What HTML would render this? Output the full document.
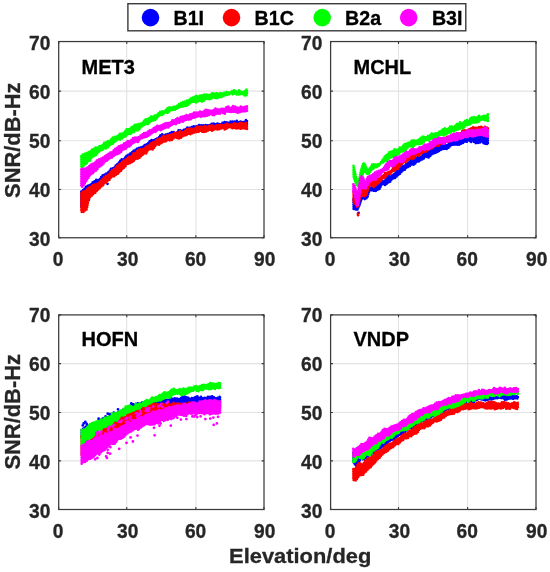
<!DOCTYPE html>
<html lang="en"><head><meta charset="utf-8"><title>SNR vs Elevation</title>
<style>html,body{margin:0;padding:0;background:#fff}body{width:550px;height:572px;overflow:hidden}</style></head>
<body>
<svg width="550" height="572" viewBox="0 0 550 572" style="display:block;font-family:'Liberation Sans', Arial, Helvetica, sans-serif;font-weight:bold">
<rect width="550" height="572" fill="#fff"/>
<path d="M126.75 41.55V237.75M195.90 41.55V237.75M58.70 91.10H264.00M58.70 140.80H264.00M58.70 189.50H264.00" stroke="#e3e3e3" stroke-width="1.1" fill="none"/>
<path d="M81.3 191.5 82.3 190.7 83.3 190.0 84.3 189.3 85.3 187.4 86.3 186.4 87.3 186.1 88.3 185.1 89.3 185.1 90.3 184.8 91.3 184.3 92.3 182.9 93.3 181.5 94.3 181.3 95.3 180.7 96.3 179.8 97.3 179.7 98.4 180.0 99.4 179.8 100.4 178.5 101.4 176.6 102.4 175.6 103.4 174.8 104.4 174.7 105.4 174.5 106.4 173.4 107.4 172.7 108.4 172.3 109.4 171.3 110.4 169.6 111.4 168.2 112.4 168.1 113.4 168.5 114.4 167.6 115.4 166.0 116.4 164.9 117.4 164.1 118.4 163.1 119.4 162.0 120.4 160.7 121.5 159.4 122.5 159.3 123.5 159.6 124.5 158.6 125.5 157.0 126.5 155.9 127.5 155.3 128.5 154.7 129.5 153.9 130.5 153.5 131.5 152.9 132.5 151.7 133.5 150.8 134.5 150.1 135.5 149.9 136.5 149.5 137.5 148.2 138.5 147.8 139.5 147.6 140.5 147.2 141.5 147.3 142.5 147.2 143.5 146.2 144.5 145.1 145.6 144.3 146.6 144.2 147.6 144.0 148.6 142.7 149.6 141.3 150.6 140.6 151.6 140.1 152.6 139.9 153.6 140.4 154.6 139.9 155.6 139.3 156.6 138.9 157.6 138.0 158.6 137.6 159.6 136.8 160.6 134.9 161.6 134.3 162.6 134.5 163.6 135.7 164.6 135.5 165.6 134.6 166.6 134.5 167.6 134.1 168.7 133.4 169.7 133.2 170.7 132.6 171.7 132.1 172.7 131.9 173.7 131.9 174.7 133.0 175.7 133.3 176.7 133.0 177.7 131.6 178.7 130.0 179.7 129.9 180.7 130.5 181.7 131.3 182.7 130.7 183.7 129.7 184.7 129.8 185.7 129.1 186.7 127.8 187.7 127.6 188.7 127.8 189.7 127.8 190.7 127.5 191.7 127.1 192.8 126.8 193.8 126.1 194.8 126.1 195.8 126.8 196.8 126.7 197.8 125.8 198.8 124.9 199.8 125.3 200.8 125.6 201.8 125.2 202.8 125.4 203.8 125.4 204.8 125.2 205.8 125.1 206.8 125.3 207.8 125.4 208.8 125.2 209.8 125.1 210.8 124.1 211.8 123.7 212.8 124.0 213.8 123.5 214.8 123.7 215.9 124.6 216.9 124.2 217.9 123.1 218.9 123.8 219.9 124.6 220.9 124.4 221.9 123.1 222.9 122.5 223.9 122.2 224.9 121.9 225.9 122.1 226.9 122.3 227.9 122.6 228.9 122.8 229.9 121.9 230.9 121.4 231.9 121.8 232.9 121.5 233.9 121.2 234.9 121.5 235.9 121.2 236.9 120.9 237.9 121.8 239.0 122.5 240.0 121.7 241.0 121.5 242.0 122.1 243.0 122.2 244.0 122.1 245.0 121.3 246.0 119.9 247.0 120.0 247.0 125.2 246.0 124.9 245.0 124.8 244.0 125.4 243.0 125.6 242.0 125.6 241.0 125.5 240.0 125.8 239.0 125.8 237.9 124.3 236.9 123.4 235.9 124.0 234.9 124.5 233.9 125.0 232.9 125.3 231.9 125.1 230.9 125.0 229.9 124.3 228.9 124.5 227.9 125.7 226.9 125.7 225.9 125.2 224.9 125.2 223.9 125.6 222.9 126.3 221.9 126.5 220.9 125.8 219.9 125.0 218.9 125.2 217.9 126.0 216.9 126.1 215.9 125.6 214.8 126.0 213.8 127.2 212.8 127.8 211.8 127.2 210.8 126.4 209.8 126.3 208.8 126.6 207.8 126.9 206.8 128.1 205.8 129.2 204.8 128.7 203.8 127.5 202.8 127.6 201.8 128.6 200.8 129.5 199.8 129.5 198.8 128.8 197.8 128.7 196.8 128.8 195.8 128.8 194.8 129.0 193.8 128.9 192.8 129.0 191.7 130.1 190.7 131.1 189.7 131.1 188.7 130.8 187.7 130.8 186.7 132.1 185.7 133.4 184.7 133.1 183.7 133.2 182.7 133.9 181.7 133.3 180.7 132.8 179.7 133.1 178.7 133.2 177.7 133.5 176.7 133.8 175.7 134.9 174.7 136.0 173.7 136.2 172.7 136.2 171.7 136.7 170.7 136.7 169.7 136.4 168.7 137.2 167.6 138.2 166.6 137.8 165.6 136.9 164.6 137.4 163.6 138.3 162.6 138.7 161.6 138.7 160.6 139.3 159.6 140.4 158.6 141.0 157.6 141.2 156.6 141.6 155.6 143.5 154.6 144.6 153.6 144.7 152.6 144.1 151.6 144.4 150.6 146.3 149.6 147.5 148.6 147.5 147.6 147.7 146.6 148.0 145.6 148.4 144.5 149.0 143.5 150.2 142.5 151.3 141.5 152.0 140.5 152.5 139.5 152.5 138.5 152.6 137.5 153.2 136.5 153.8 135.5 155.0 134.5 155.7 133.5 155.5 132.5 156.2 131.5 157.9 130.5 159.2 129.5 159.6 128.5 159.2 127.5 159.9 126.5 160.9 125.5 161.8 124.5 163.2 123.5 164.2 122.5 165.3 121.5 166.5 120.4 166.8 119.4 167.2 118.4 169.3 117.4 170.2 116.4 171.0 115.4 171.9 114.4 171.5 113.4 172.1 112.4 173.0 111.4 173.3 110.4 174.2 109.4 175.6 108.4 176.5 107.4 177.3 106.4 178.3 105.4 178.7 104.4 179.8 103.4 181.7 102.4 182.4 101.4 182.6 100.4 183.4 99.4 184.5 98.4 185.2 97.3 185.9 96.3 187.0 95.3 188.6 94.3 189.9 93.3 191.2 92.3 192.5 91.3 193.7 90.3 194.7 89.3 195.2 88.3 195.1 87.3 201.1 86.3 206.2 85.3 207.2 84.3 207.5 83.3 207.4 82.3 207.5 81.3 207.8Z" fill="#0000ff" stroke="#0000ff" stroke-width="2.6" stroke-linecap="round" stroke-linejoin="round" stroke-dasharray="0 2.2"/>
<path d="M88.9 199.8h0M107.5 183.8h0M196.1 131.8h0M138.6 157.8h0" fill="none" stroke="#0000ff" stroke-width="2.8" stroke-linecap="round"/>
<path d="M81.3 193.4 82.3 192.1 83.3 191.0 84.3 191.2 85.3 191.6 86.3 190.7 87.3 189.1 88.3 187.7 89.3 187.5 90.3 187.6 91.3 186.6 92.3 185.3 93.3 185.2 94.3 184.6 95.3 184.2 96.3 184.3 97.3 183.8 98.4 183.2 99.4 182.3 100.4 180.6 101.4 180.2 102.4 179.9 103.4 178.1 104.4 176.7 105.4 176.0 106.4 175.6 107.4 175.1 108.4 175.0 109.4 173.8 110.4 172.2 111.4 171.2 112.4 170.0 113.4 169.3 114.4 169.0 115.4 168.2 116.4 167.1 117.4 165.8 118.4 164.8 119.4 164.3 120.4 163.6 121.5 162.5 122.5 161.4 123.5 160.6 124.5 159.9 125.5 159.4 126.5 159.6 127.5 158.4 128.5 156.8 129.5 156.5 130.5 157.0 131.5 156.5 132.5 154.9 133.5 153.2 134.5 153.0 135.5 153.0 136.5 151.8 137.5 150.5 138.5 149.9 139.5 149.7 140.5 149.5 141.5 148.9 142.5 149.3 143.5 149.3 144.5 148.7 145.6 146.9 146.6 146.2 147.6 145.8 148.6 145.3 149.6 145.0 150.6 143.9 151.6 142.9 152.6 142.3 153.6 142.3 154.6 142.4 155.6 141.3 156.6 139.6 157.6 138.8 158.6 138.7 159.6 138.8 160.6 138.5 161.6 137.9 162.6 136.7 163.6 135.8 164.6 136.4 165.6 136.8 166.6 136.1 167.6 135.3 168.7 135.1 169.7 134.8 170.7 134.6 171.7 135.0 172.7 134.7 173.7 133.4 174.7 132.9 175.7 132.5 176.7 132.6 177.7 133.5 178.7 132.4 179.7 131.2 180.7 131.0 181.7 132.3 182.7 132.6 183.7 132.3 184.7 131.4 185.7 130.4 186.7 129.4 187.7 129.1 188.7 128.9 189.7 128.6 190.7 128.5 191.7 128.4 192.8 128.8 193.8 129.2 194.8 128.7 195.8 127.9 196.8 126.9 197.8 126.2 198.8 126.8 199.8 127.0 200.8 126.8 201.8 127.2 202.8 127.0 203.8 126.6 204.8 126.0 205.8 126.1 206.8 126.8 207.8 126.3 208.8 126.1 209.8 126.0 210.8 125.6 211.8 125.2 212.8 125.4 213.8 126.5 214.8 126.6 215.9 125.4 216.9 125.2 217.9 125.4 218.9 125.1 219.9 124.9 220.9 124.7 221.9 124.9 222.9 125.4 223.9 125.4 224.9 124.6 225.9 123.9 226.9 123.9 227.9 123.9 228.9 124.6 229.9 125.1 230.9 124.5 231.9 124.1 232.9 124.4 233.9 123.9 234.9 123.0 235.9 123.6 236.9 124.4 237.9 124.0 239.0 123.6 240.0 123.1 241.0 122.5 242.0 123.0 243.0 123.8 244.0 123.9 245.0 123.0 246.0 122.7 247.0 123.9 247.0 129.0 246.0 128.7 245.0 128.5 244.0 128.2 243.0 128.2 242.0 128.6 241.0 128.8 240.0 128.2 239.0 128.2 237.9 128.6 236.9 128.7 235.9 128.3 234.9 127.9 233.9 128.1 232.9 128.3 231.9 128.0 230.9 127.4 229.9 127.0 228.9 127.2 227.9 127.5 226.9 128.1 225.9 129.3 224.9 129.6 223.9 128.9 222.9 127.7 221.9 128.0 220.9 128.6 219.9 129.3 218.9 129.3 217.9 129.0 216.9 129.6 215.9 129.4 214.8 128.6 213.8 129.6 212.8 130.9 211.8 130.7 210.8 130.1 209.8 129.8 208.8 129.8 207.8 130.6 206.8 131.5 205.8 131.5 204.8 131.5 203.8 132.2 202.8 132.2 201.8 131.2 200.8 130.6 199.8 131.1 198.8 131.8 197.8 132.0 196.8 132.0 195.8 131.8 194.8 132.2 193.8 132.6 192.8 133.0 191.7 133.6 190.7 134.2 189.7 134.0 188.7 133.5 187.7 133.9 186.7 134.8 185.7 135.5 184.7 135.5 183.7 135.4 182.7 136.3 181.7 137.2 180.7 137.9 179.7 138.2 178.7 138.5 177.7 138.6 176.7 137.6 175.7 137.1 174.7 137.4 173.7 138.1 172.7 139.6 171.7 140.0 170.7 139.9 169.7 140.4 168.7 140.3 167.6 139.9 166.6 140.8 165.6 141.5 164.6 141.2 163.6 141.8 162.6 142.6 161.6 142.3 160.6 143.5 159.6 144.8 158.6 144.8 157.6 144.4 156.6 144.6 155.6 145.5 154.6 147.0 153.6 148.7 152.6 149.4 151.6 149.3 150.6 148.9 149.6 149.0 148.6 149.6 147.6 150.7 146.6 153.0 145.6 153.9 144.5 153.6 143.5 153.5 142.5 155.0 141.5 156.0 140.5 156.5 139.5 157.6 138.5 158.4 137.5 158.7 136.5 158.9 135.5 158.9 134.5 159.9 133.5 161.3 132.5 161.9 131.5 162.3 130.5 162.8 129.5 163.4 128.5 163.7 127.5 163.4 126.5 164.0 125.5 166.1 124.5 167.5 123.5 167.8 122.5 168.8 121.5 170.4 120.4 171.4 119.4 172.0 118.4 173.3 117.4 174.2 116.4 174.4 115.4 175.2 114.4 176.1 113.4 176.6 112.4 176.3 111.4 177.0 110.4 178.1 109.4 179.8 108.4 180.2 107.4 181.0 106.4 182.3 105.4 182.8 104.4 183.1 103.4 184.8 102.4 186.1 101.4 186.4 100.4 187.3 99.4 188.3 98.4 189.4 97.3 190.3 96.3 191.4 95.3 192.7 94.3 193.5 93.3 193.9 92.3 195.0 91.3 196.2 90.3 196.8 89.3 198.5 88.3 200.5 87.3 206.6 86.3 210.3 85.3 210.2 84.3 210.8 83.3 212.2 82.3 212.3 81.3 211.6Z" fill="#ff0000" stroke="#ff0000" stroke-width="2.6" stroke-linecap="round" stroke-linejoin="round" stroke-dasharray="0 2.2"/>
<path d="M81.3 156.1 82.3 155.1 83.3 154.0 84.3 153.9 85.3 153.8 86.3 153.3 87.3 152.7 88.3 152.0 89.3 151.9 90.3 151.6 91.3 150.3 92.3 149.2 93.3 149.2 94.3 148.7 95.3 147.5 96.3 147.4 97.3 147.7 98.4 147.1 99.4 146.2 100.4 145.5 101.4 145.9 102.4 145.7 103.4 144.1 104.4 142.6 105.4 142.1 106.4 142.3 107.4 141.6 108.4 140.8 109.4 140.9 110.4 140.6 111.4 139.2 112.4 137.7 113.4 137.6 114.4 137.3 115.4 136.5 116.4 136.6 117.4 136.7 118.4 135.6 119.4 134.0 120.4 133.4 121.5 133.7 122.5 133.6 123.5 133.1 124.5 132.2 125.5 130.9 126.5 129.4 127.5 128.7 128.5 129.5 129.5 129.7 130.5 128.2 131.5 127.2 132.5 127.2 133.5 126.3 134.5 125.0 135.5 124.2 136.5 124.5 137.5 124.7 138.5 124.0 139.5 123.8 140.5 123.7 141.5 123.2 142.5 122.7 143.5 121.8 144.5 120.1 145.6 119.2 146.6 118.8 147.6 119.1 148.6 119.1 149.6 117.7 150.6 116.7 151.6 116.5 152.6 116.8 153.6 116.5 154.6 115.6 155.6 115.5 156.6 114.9 157.6 114.2 158.6 113.2 159.6 112.0 160.6 111.4 161.6 111.3 162.6 111.2 163.6 111.4 164.6 111.3 165.6 110.2 166.6 108.9 167.6 108.3 168.7 107.7 169.7 107.0 170.7 107.2 171.7 107.7 172.7 107.3 173.7 106.7 174.7 106.6 175.7 106.6 176.7 106.1 177.7 105.3 178.7 104.3 179.7 103.5 180.7 103.1 181.7 102.7 182.7 102.1 183.7 101.8 184.7 101.6 185.7 101.1 186.7 100.6 187.7 100.5 188.7 100.5 189.7 99.5 190.7 98.6 191.7 98.3 192.8 97.5 193.8 97.1 194.8 96.8 195.8 95.8 196.8 95.7 197.8 96.3 198.8 96.7 199.8 95.6 200.8 95.5 201.8 95.6 202.8 94.8 203.8 94.6 204.8 94.7 205.8 94.5 206.8 94.5 207.8 95.1 208.8 95.2 209.8 94.9 210.8 94.0 211.8 93.3 212.8 93.4 213.8 93.5 214.8 93.5 215.9 93.4 216.9 93.3 217.9 93.6 218.9 94.0 219.9 93.6 220.9 92.8 221.9 93.1 222.9 93.7 223.9 93.1 224.9 92.2 225.9 92.0 226.9 92.2 227.9 92.4 228.9 92.2 229.9 92.5 230.9 92.5 231.9 91.1 232.9 90.3 233.9 90.3 234.9 90.3 235.9 91.4 236.9 92.1 237.9 91.6 239.0 90.3 240.0 90.5 241.0 91.9 242.0 92.1 243.0 91.9 244.0 91.6 245.0 90.8 246.0 89.9 247.0 89.4 247.0 94.8 246.0 95.9 245.0 95.6 244.0 95.1 243.0 94.2 242.0 94.2 241.0 93.9 240.0 94.0 239.0 94.4 237.9 94.6 236.9 94.7 235.9 94.2 234.9 93.4 233.9 93.8 232.9 94.4 231.9 93.9 230.9 93.2 229.9 93.8 228.9 94.7 227.9 94.8 226.9 94.8 225.9 95.4 224.9 95.5 223.9 95.2 222.9 96.1 221.9 97.1 220.9 97.1 219.9 97.1 218.9 97.3 217.9 97.9 216.9 98.3 215.9 98.4 214.8 97.6 213.8 97.1 212.8 97.4 211.8 98.3 210.8 99.1 209.8 99.4 208.8 99.2 207.8 98.9 206.8 99.1 205.8 99.0 204.8 99.3 203.8 100.7 202.8 101.4 201.8 101.6 200.8 101.2 199.8 100.8 198.8 100.7 197.8 101.5 196.8 102.3 195.8 102.4 194.8 102.2 193.8 101.6 192.8 101.7 191.7 102.1 190.7 102.7 189.7 103.6 188.7 104.6 187.7 105.5 186.7 105.9 185.7 106.3 184.7 105.9 183.7 105.6 182.7 106.6 181.7 107.1 180.7 106.7 179.7 107.1 178.7 107.7 177.7 108.2 176.7 108.9 175.7 109.5 174.7 109.8 173.7 109.6 172.7 110.0 171.7 110.3 170.7 110.2 169.7 110.7 168.7 112.3 167.6 113.0 166.6 112.6 165.6 112.5 164.6 112.9 163.6 113.6 162.6 114.6 161.6 115.1 160.6 115.1 159.6 115.4 158.6 115.9 157.6 116.9 156.6 118.5 155.6 119.7 154.6 120.3 153.6 120.5 152.6 120.3 151.6 120.4 150.6 121.4 149.6 122.5 148.6 123.6 147.6 124.4 146.6 124.2 145.6 124.0 144.5 124.5 143.5 125.4 142.5 126.2 141.5 126.7 140.5 127.3 139.5 129.2 138.5 129.8 137.5 130.4 136.5 129.9 135.5 130.3 134.5 131.7 133.5 132.4 132.5 132.2 131.5 132.6 130.5 134.0 129.5 134.5 128.5 133.9 127.5 134.0 126.5 135.1 125.5 136.5 124.5 137.0 123.5 137.1 122.5 138.0 121.5 139.0 120.4 139.5 119.4 139.7 118.4 139.5 117.4 139.6 116.4 140.3 115.4 141.4 114.4 142.0 113.4 142.9 112.4 144.0 111.4 144.2 110.4 144.5 109.4 145.5 108.4 146.7 107.4 147.7 106.4 148.2 105.4 148.6 104.4 148.1 103.4 148.4 102.4 150.2 101.4 150.7 100.4 150.3 99.4 151.1 98.4 152.3 97.3 153.2 96.3 154.7 95.3 155.9 94.3 155.9 93.3 156.1 92.3 156.6 91.3 157.9 90.3 160.1 89.3 161.0 88.3 161.1 87.3 162.5 86.3 164.1 85.3 164.3 84.3 164.8 83.3 166.0 82.3 166.5 81.3 167.7Z" fill="#00ff00" stroke="#00ff00" stroke-width="2.6" stroke-linecap="round" stroke-linejoin="round" stroke-dasharray="0 2.2"/>
<path d="M81.3 169.3 82.3 168.5 83.3 168.5 84.3 168.5 85.3 168.6 86.3 168.4 87.3 167.5 88.3 167.0 89.3 166.2 90.3 165.0 91.3 164.1 92.3 163.7 93.3 164.2 94.3 163.4 95.3 162.0 96.3 161.4 97.3 160.1 98.4 159.4 99.4 159.4 100.4 158.8 101.4 158.4 102.4 158.0 103.4 157.2 104.4 156.6 105.4 156.1 106.4 155.2 107.4 154.4 108.4 153.9 109.4 153.2 110.4 152.4 111.4 152.4 112.4 151.9 113.4 150.7 114.4 149.6 115.4 148.6 116.4 148.0 117.4 147.7 118.4 146.7 119.4 145.8 120.4 145.6 121.5 145.5 122.5 145.2 123.5 144.0 124.5 143.0 125.5 143.1 126.5 142.3 127.5 141.0 128.5 140.8 129.5 141.1 130.5 140.7 131.5 139.7 132.5 138.6 133.5 137.7 134.5 137.7 135.5 137.5 136.5 137.1 137.5 137.7 138.5 137.3 139.5 136.7 140.5 135.5 141.5 135.3 142.5 134.4 143.5 133.3 144.5 132.9 145.6 132.9 146.6 132.7 147.6 131.9 148.6 131.0 149.6 130.3 150.6 130.2 151.6 130.0 152.6 129.1 153.6 128.3 154.6 127.7 155.6 127.0 156.6 126.3 157.6 125.7 158.6 126.1 159.6 126.0 160.6 125.6 161.6 125.3 162.6 124.5 163.6 124.3 164.6 124.0 165.6 123.1 166.6 123.0 167.6 123.2 168.7 122.8 169.7 122.7 170.7 122.8 171.7 121.4 172.7 119.8 173.7 119.9 174.7 120.5 175.7 119.7 176.7 118.3 177.7 117.9 178.7 118.7 179.7 118.9 180.7 116.8 181.7 116.3 182.7 116.5 183.7 116.4 184.7 115.8 185.7 115.3 186.7 114.9 187.7 115.4 188.7 115.5 189.7 114.6 190.7 114.0 191.7 114.0 192.8 113.6 193.8 112.8 194.8 112.2 195.8 112.4 196.8 113.0 197.8 112.8 198.8 112.2 199.8 111.6 200.8 111.4 201.8 111.8 202.8 112.2 203.8 111.8 204.8 110.5 205.8 109.7 206.8 110.0 207.8 110.0 208.8 109.9 209.8 110.6 210.8 110.9 211.8 110.8 212.8 110.7 213.8 109.9 214.8 108.8 215.9 108.5 216.9 109.0 217.9 109.7 218.9 109.8 219.9 109.5 220.9 109.1 221.9 108.3 222.9 108.5 223.9 109.3 224.9 109.2 225.9 108.2 226.9 106.6 227.9 106.5 228.9 106.8 229.9 108.3 230.9 108.5 231.9 107.1 232.9 106.0 233.9 106.0 234.9 106.4 235.9 107.0 236.9 107.6 237.9 108.1 239.0 107.7 240.0 106.7 241.0 106.6 242.0 106.9 243.0 107.4 244.0 107.3 245.0 106.9 246.0 106.8 247.0 106.3 247.0 111.4 246.0 111.0 245.0 111.7 244.0 111.3 243.0 110.8 242.0 111.4 241.0 112.0 240.0 112.2 239.0 112.7 237.9 112.7 236.9 112.4 235.9 112.2 234.9 111.6 233.9 111.7 232.9 112.1 231.9 112.1 230.9 112.0 229.9 111.5 228.9 111.9 227.9 111.9 226.9 111.1 225.9 111.2 224.9 113.8 223.9 113.9 222.9 113.0 221.9 111.9 220.9 112.5 219.9 113.8 218.9 114.2 217.9 113.6 216.9 113.8 215.9 113.9 214.8 114.2 213.8 115.5 212.8 115.6 211.8 114.0 210.8 113.6 209.8 114.3 208.8 115.4 207.8 115.4 206.8 115.8 205.8 116.0 204.8 116.2 203.8 116.3 202.8 116.3 201.8 116.9 200.8 116.7 199.8 116.1 198.8 116.1 197.8 116.4 196.8 116.7 195.8 117.2 194.8 117.6 193.8 117.7 192.8 117.8 191.7 118.4 190.7 119.3 189.7 119.8 188.7 119.6 187.7 119.6 186.7 119.7 185.7 119.7 184.7 120.2 183.7 121.3 182.7 121.8 181.7 121.1 180.7 121.4 179.7 122.7 178.7 122.5 177.7 122.2 176.7 123.6 175.7 124.3 174.7 124.0 173.7 123.8 172.7 124.2 171.7 125.0 170.7 125.6 169.7 126.1 168.7 127.2 167.6 127.8 166.6 127.4 165.6 127.5 164.6 128.1 163.6 129.0 162.6 129.2 161.6 129.4 160.6 130.4 159.6 130.0 158.6 129.3 157.6 129.9 156.6 130.8 155.6 131.9 154.6 132.4 153.6 131.8 152.6 132.3 151.6 133.5 150.6 134.4 149.6 134.6 148.6 135.4 147.6 136.7 146.6 136.8 145.6 136.7 144.5 137.3 143.5 137.5 142.5 137.9 141.5 138.6 140.5 138.6 139.5 139.3 138.5 141.5 137.5 142.4 136.5 141.6 135.5 141.5 134.5 142.3 133.5 142.9 132.5 143.4 131.5 144.0 130.5 145.3 129.5 146.5 128.5 146.4 127.5 146.6 126.5 147.9 125.5 149.2 124.5 149.5 123.5 149.0 122.5 150.0 121.5 151.5 120.4 152.5 119.4 153.3 118.4 153.9 117.4 154.1 116.4 154.4 115.4 154.7 114.4 155.3 113.4 156.3 112.4 157.1 111.4 158.0 110.4 158.1 109.4 158.1 108.4 159.4 107.4 160.5 106.4 160.8 105.4 161.1 104.4 161.9 103.4 163.7 102.4 164.7 101.4 165.4 100.4 166.3 99.4 166.1 98.4 167.3 97.3 169.2 96.3 170.3 95.3 171.2 94.3 171.4 93.3 172.5 92.3 174.0 91.3 174.0 90.3 174.7 89.3 176.1 88.3 177.7 87.3 179.2 86.3 180.7 85.3 182.5 84.3 184.0 83.3 185.6 82.3 186.7 81.3 186.7Z" fill="#ff00ff" stroke="#ff00ff" stroke-width="2.6" stroke-linecap="round" stroke-linejoin="round" stroke-dasharray="0 2.2"/>
<path d="M58.70 237.75v-2.4M58.70 41.55v2.4M126.75 237.75v-2.4M126.75 41.55v2.4M195.90 237.75v-2.4M195.90 41.55v2.4M264.00 237.75v-2.4M264.00 41.55v2.4M58.70 41.55h2.4M264.00 41.55h-2.4M58.70 91.10h2.4M264.00 91.10h-2.4M58.70 140.80h2.4M264.00 140.80h-2.4M58.70 189.50h2.4M264.00 189.50h-2.4M58.70 237.75h2.4M264.00 237.75h-2.4" stroke="#3a3a3a" stroke-width="1.1" fill="none"/>
<rect x="58.70" y="41.55" width="205.30" height="196.20" fill="none" stroke="#3a3a3a" stroke-width="1.25"/>
<text transform="translate(58.2 265.9) scale(1 1.100)" font-size="19.20" fill="#262626" stroke="#262626" stroke-width="0.3" text-anchor="middle">0</text>
<text transform="translate(127.7 265.9) scale(1 1.100)" font-size="19.20" fill="#262626" stroke="#262626" stroke-width="0.3" text-anchor="middle">30</text>
<text transform="translate(195.6 265.9) scale(1 1.100)" font-size="19.20" fill="#262626" stroke="#262626" stroke-width="0.3" text-anchor="middle">60</text>
<text transform="translate(264.7 265.9) scale(1 1.100)" font-size="19.20" fill="#262626" stroke="#262626" stroke-width="0.3" text-anchor="middle">90</text>
<text transform="translate(50.4 49.9) scale(1 1.100)" font-size="19.20" fill="#262626" stroke="#262626" stroke-width="0.3" text-anchor="end">70</text>
<text transform="translate(50.4 98.5) scale(1 1.100)" font-size="19.20" fill="#262626" stroke="#262626" stroke-width="0.3" text-anchor="end">60</text>
<text transform="translate(50.4 148.1) scale(1 1.100)" font-size="19.20" fill="#262626" stroke="#262626" stroke-width="0.3" text-anchor="end">50</text>
<text transform="translate(50.4 196.6) scale(1 1.100)" font-size="19.20" fill="#262626" stroke="#262626" stroke-width="0.3" text-anchor="end">40</text>
<text transform="translate(50.4 246.4) scale(1 1.100)" font-size="19.20" fill="#262626" stroke="#262626" stroke-width="0.3" text-anchor="end">30</text>
<text transform="translate(81.6 73.5) scale(1 1.055)" font-size="20.00" fill="#000" stroke="#000" stroke-width="0.3">MET3</text>
<path d="M398.50 41.55V237.75M467.60 41.55V237.75M330.60 91.10H536.00M330.60 140.80H536.00M330.60 189.50H536.00" stroke="#e3e3e3" stroke-width="1.1" fill="none"/>
<path d="M353.5 199.2 354.5 201.5 355.5 203.0 356.5 203.9 357.5 203.7 358.5 201.2 359.6 196.9 360.6 191.2 361.6 189.9 362.6 190.7 363.6 191.9 364.6 193.5 365.6 194.1 366.6 193.7 367.6 193.5 368.6 189.9 369.6 187.6 370.6 187.6 371.6 187.2 372.6 187.6 373.6 187.4 374.6 186.4 375.6 185.6 376.6 185.0 377.6 184.4 378.6 183.8 379.6 183.3 380.6 182.9 381.6 181.9 382.6 181.1 383.6 181.2 384.6 180.8 385.6 179.3 386.6 178.2 387.6 177.2 388.6 175.7 389.6 175.6 390.6 176.6 391.7 176.1 392.7 174.7 393.7 174.6 394.7 173.7 395.7 172.6 396.7 170.0 397.7 169.7 398.7 169.6 399.7 168.7 400.7 167.4 401.7 166.2 402.7 166.2 403.7 166.6 404.7 165.7 405.7 164.3 406.7 163.8 407.7 163.6 408.7 162.7 409.7 161.3 410.7 160.2 411.7 159.5 412.7 159.2 413.7 158.4 414.7 157.5 415.7 157.4 416.7 157.8 417.7 156.7 418.7 155.9 419.7 156.6 420.7 157.3 421.7 156.6 422.7 154.8 423.7 153.5 424.8 152.9 425.8 152.4 426.8 152.4 427.8 152.1 428.8 151.0 429.8 150.3 430.8 150.3 431.8 149.8 432.8 148.9 433.8 148.0 434.8 147.4 435.8 147.4 436.8 147.6 437.8 146.2 438.8 145.4 439.8 145.8 440.8 145.9 441.8 145.0 442.8 143.9 443.8 143.4 444.8 143.0 445.8 145.0 446.8 145.1 447.8 144.8 448.8 143.2 449.8 142.6 450.8 142.3 451.8 141.8 452.8 141.9 453.8 141.2 454.8 140.2 455.8 139.7 456.9 139.7 457.9 140.1 458.9 139.7 459.9 138.8 460.9 139.1 461.9 139.5 462.9 138.4 463.9 138.2 464.9 138.2 465.9 137.5 466.9 137.6 467.9 138.5 468.9 138.6 469.9 137.9 470.9 137.0 471.9 136.4 472.9 137.2 473.9 138.3 474.9 137.6 475.9 135.5 476.9 135.1 477.9 135.5 478.9 136.1 479.9 136.0 480.9 136.0 481.9 136.6 482.9 136.9 483.9 136.9 484.9 136.4 485.9 135.5 486.9 135.8 487.9 135.7 487.9 144.3 486.9 143.8 485.9 143.3 484.9 143.8 483.9 143.8 482.9 142.3 481.9 141.5 480.9 142.2 479.9 142.6 478.9 142.5 477.9 143.1 476.9 143.3 475.9 143.1 474.9 143.0 473.9 141.7 472.9 140.4 471.9 141.2 470.9 142.3 469.9 141.2 468.9 139.8 467.9 140.1 466.9 141.8 465.9 142.1 464.9 141.6 463.9 142.1 462.9 143.0 461.9 143.6 460.9 143.8 459.9 144.6 458.9 144.9 457.9 145.2 456.9 144.4 455.8 144.1 454.8 145.0 453.8 144.9 452.8 144.1 451.8 144.5 450.8 145.4 449.8 146.8 448.8 147.7 447.8 148.0 446.8 148.8 445.8 149.5 444.8 148.6 443.8 148.3 442.8 149.1 441.8 149.4 440.8 149.8 439.8 150.2 438.8 151.4 437.8 152.0 436.8 152.0 435.8 152.8 434.8 152.8 433.8 153.2 432.8 154.1 431.8 154.2 430.8 155.2 429.8 156.6 428.8 157.4 427.8 157.9 426.8 156.8 425.8 156.1 424.8 156.9 423.7 158.8 422.7 159.5 421.7 159.2 420.7 159.9 419.7 161.1 418.7 161.5 417.7 161.4 416.7 161.7 415.7 163.1 414.7 164.3 413.7 164.7 412.7 164.5 411.7 164.2 410.7 165.2 409.7 166.2 408.7 166.9 407.7 167.1 406.7 167.4 405.7 168.4 404.7 169.7 403.7 170.4 402.7 170.4 401.7 171.5 400.7 173.1 399.7 173.8 398.7 174.6 397.7 175.4 396.7 176.4 395.7 177.6 394.7 178.3 393.7 178.5 392.7 178.5 391.7 179.3 390.6 181.0 389.6 182.4 388.6 182.5 387.6 182.7 386.6 183.9 385.6 185.0 384.6 184.9 383.6 184.1 382.6 183.9 381.6 184.7 380.6 186.9 379.6 188.9 378.6 189.8 377.6 189.7 376.6 190.1 375.6 191.1 374.6 191.3 373.6 190.7 372.6 190.1 371.6 190.2 370.6 190.8 369.6 190.4 368.6 192.8 367.6 197.0 366.6 198.1 365.6 199.2 364.6 199.1 363.6 197.8 362.6 198.1 361.6 199.4 360.6 201.8 359.6 205.2 358.5 207.3 357.5 209.5 356.5 210.1 355.5 209.3 354.5 209.2 353.5 208.8Z" fill="#0000ff" stroke="#0000ff" stroke-width="2.6" stroke-linecap="round" stroke-linejoin="round" stroke-dasharray="0 2.2"/>
<path d="M358.6 212.8h0" fill="none" stroke="#0000ff" stroke-width="2.8" stroke-linecap="round"/>
<path d="M353.5 191.8 354.5 194.4 355.5 197.0 356.5 200.9 357.5 201.7 358.5 196.1 359.6 190.3 360.6 184.0 361.6 183.0 362.6 184.4 363.6 185.7 364.6 188.4 365.6 189.7 366.6 188.4 367.6 185.9 368.6 183.5 369.6 183.3 370.6 182.9 371.6 181.0 372.6 180.6 373.6 181.3 374.6 181.7 375.6 181.3 376.6 179.3 377.6 178.0 378.6 178.6 379.6 178.8 380.6 177.7 381.6 176.3 382.6 176.0 383.6 175.9 384.6 173.7 385.6 172.3 386.6 173.0 387.6 172.8 388.6 172.0 389.6 171.7 390.6 171.2 391.7 170.4 392.7 168.6 393.7 167.3 394.7 165.3 395.7 164.3 396.7 164.7 397.7 163.2 398.7 161.5 399.7 161.2 400.7 161.3 401.7 161.1 402.7 160.2 403.7 158.9 404.7 158.6 405.7 158.4 406.7 157.5 407.7 156.6 408.7 156.1 409.7 156.5 410.7 156.8 411.7 156.2 412.7 155.3 413.7 154.0 414.7 152.4 415.7 151.9 416.7 152.0 417.7 151.4 418.7 150.7 419.7 150.1 420.7 149.4 421.7 148.9 422.7 148.2 423.7 147.6 424.8 147.8 425.8 147.4 426.8 146.5 427.8 145.2 428.8 143.9 429.8 143.4 430.8 143.6 431.8 144.0 432.8 143.4 433.8 142.6 434.8 141.4 435.8 140.6 436.8 141.0 437.8 140.8 438.8 139.6 439.8 139.5 440.8 139.9 441.8 139.5 442.8 139.2 443.8 139.1 444.8 138.2 445.8 137.3 446.8 137.1 447.8 136.5 448.8 136.5 449.8 137.6 450.8 137.2 451.8 136.8 452.8 135.5 453.8 133.9 454.8 134.0 455.8 134.8 456.9 133.8 457.9 132.8 458.9 133.6 459.9 133.8 460.9 133.3 461.9 131.7 462.9 129.9 463.9 129.7 464.9 130.3 465.9 130.7 466.9 130.8 467.9 129.7 468.9 129.2 469.9 129.2 470.9 128.7 471.9 127.8 472.9 127.4 473.9 127.2 474.9 127.7 475.9 128.3 476.9 127.8 477.9 127.3 478.9 127.1 479.9 126.6 480.9 126.5 481.9 127.4 482.9 127.9 483.9 127.5 484.9 126.8 485.9 126.8 486.9 127.7 487.9 127.4 487.9 131.6 486.9 131.2 485.9 130.9 484.9 131.3 483.9 131.7 482.9 131.6 481.9 132.2 480.9 133.5 479.9 133.7 478.9 133.8 477.9 133.4 476.9 132.2 475.9 131.9 474.9 132.7 473.9 134.1 472.9 134.0 471.9 133.4 470.9 133.9 469.9 134.5 468.9 134.3 467.9 133.8 466.9 135.1 465.9 135.9 464.9 135.1 463.9 134.3 462.9 134.0 461.9 134.3 460.9 134.7 459.9 135.5 458.9 135.7 457.9 135.5 456.9 136.3 455.8 137.8 454.8 138.3 453.8 138.9 452.8 139.7 451.8 139.8 450.8 140.1 449.8 140.5 448.8 141.3 447.8 141.9 446.8 142.0 445.8 141.8 444.8 141.7 443.8 142.0 442.8 142.8 441.8 143.2 440.8 143.2 439.8 144.5 438.8 145.7 437.8 145.2 436.8 145.5 435.8 146.5 434.8 146.2 433.8 146.0 432.8 147.1 431.8 148.4 430.8 148.3 429.8 148.6 428.8 149.3 427.8 150.2 426.8 151.5 425.8 151.6 424.8 151.5 423.7 152.0 422.7 152.6 421.7 153.1 420.7 154.1 419.7 155.5 418.7 155.7 417.7 155.2 416.7 155.0 415.7 155.5 414.7 157.2 413.7 158.7 412.7 159.2 411.7 158.2 410.7 158.1 409.7 159.1 408.7 159.8 407.7 160.0 406.7 161.1 405.7 162.2 404.7 161.6 403.7 162.1 402.7 163.3 401.7 164.7 400.7 165.6 399.7 166.2 398.7 167.8 397.7 169.2 396.7 168.7 395.7 169.3 394.7 171.0 393.7 171.1 392.7 171.1 391.7 172.0 390.6 173.3 389.6 174.3 388.6 174.3 387.6 174.3 386.6 175.5 385.6 177.4 384.6 178.2 383.6 177.9 382.6 178.2 381.6 179.5 380.6 181.1 379.6 182.3 378.6 183.0 377.6 183.7 376.6 184.6 375.6 185.3 374.6 186.2 373.6 187.0 372.6 186.7 371.6 185.6 370.6 185.3 369.6 185.0 368.6 187.4 367.6 190.7 366.6 194.0 365.6 196.3 364.6 196.2 363.6 195.3 362.6 196.0 361.6 195.9 360.6 195.5 359.6 199.5 358.5 204.4 357.5 207.3 356.5 205.7 355.5 204.2 354.5 203.7 353.5 201.3Z" fill="#ff0000" stroke="#ff0000" stroke-width="2.6" stroke-linecap="round" stroke-linejoin="round" stroke-dasharray="0 2.2"/>
<path d="M358.1 215.2h0M357.9 213.8h0" fill="none" stroke="#ff0000" stroke-width="2.8" stroke-linecap="round"/>
<path d="M353.5 165.7 354.5 170.1 355.5 174.5 356.5 179.2 357.5 181.7 358.5 180.3 359.6 178.1 360.6 171.8 361.6 168.2 362.6 165.1 363.6 162.8 364.6 164.0 365.6 165.8 366.6 168.3 367.6 170.5 368.6 169.8 369.6 168.6 370.6 167.3 371.6 165.7 372.6 163.8 373.6 164.1 374.6 164.8 375.6 164.5 376.6 164.5 377.6 164.4 378.6 163.5 379.6 163.8 380.6 162.7 381.6 161.1 382.6 159.9 383.6 158.5 384.6 156.7 385.6 155.2 386.6 155.2 387.6 154.5 388.6 152.9 389.6 152.1 390.6 151.6 391.7 151.5 392.7 151.7 393.7 150.4 394.7 149.3 395.7 149.3 396.7 149.9 397.7 149.9 398.7 149.2 399.7 147.5 400.7 147.1 401.7 147.3 402.7 146.5 403.7 144.8 404.7 144.0 405.7 144.3 406.7 143.7 407.7 142.7 408.7 142.8 409.7 143.0 410.7 141.8 411.7 140.4 412.7 140.6 413.7 140.4 414.7 140.2 415.7 141.1 416.7 141.2 417.7 140.0 418.7 139.4 419.7 139.1 420.7 138.0 421.7 137.2 422.7 136.7 423.7 136.2 424.8 137.1 425.8 137.7 426.8 136.9 427.8 135.9 428.8 135.6 429.8 135.5 430.8 134.5 431.8 133.4 432.8 133.8 433.8 134.1 434.8 133.6 435.8 133.1 436.8 133.0 437.8 133.0 438.8 132.4 439.8 131.3 440.8 130.8 441.8 130.6 442.8 129.4 443.8 128.5 444.8 128.4 445.8 128.5 446.8 129.2 447.8 129.1 448.8 128.2 449.8 126.9 450.8 125.9 451.8 126.5 452.8 126.5 453.8 127.0 454.8 126.9 455.8 124.8 456.9 124.1 457.9 124.7 458.9 123.9 459.9 122.4 460.9 122.7 461.9 123.5 462.9 122.9 463.9 122.0 464.9 120.9 465.9 120.1 466.9 119.8 467.9 120.8 468.9 120.7 469.9 119.2 470.9 117.7 471.9 117.6 472.9 117.5 473.9 117.1 474.9 117.7 475.9 118.1 476.9 117.9 477.9 116.2 478.9 115.7 479.9 117.1 480.9 117.2 481.9 116.9 482.9 116.1 483.9 115.6 484.9 116.0 485.9 116.2 486.9 115.4 487.9 114.3 487.9 121.6 486.9 120.4 485.9 120.5 484.9 120.4 483.9 120.0 482.9 119.5 481.9 119.6 480.9 119.8 479.9 120.1 478.9 121.8 477.9 122.6 476.9 121.8 475.9 122.3 474.9 123.0 473.9 122.6 472.9 122.1 471.9 122.5 470.9 123.8 469.9 124.3 468.9 124.4 467.9 124.8 466.9 124.9 465.9 125.3 464.9 125.8 463.9 127.4 462.9 129.0 461.9 128.3 460.9 127.6 459.9 128.7 458.9 129.1 457.9 129.6 456.9 130.0 455.8 130.0 454.8 130.7 453.8 131.6 452.8 131.3 451.8 130.9 450.8 132.4 449.8 133.1 448.8 132.3 447.8 132.8 446.8 134.2 445.8 134.3 444.8 134.6 443.8 135.5 442.8 135.0 441.8 134.6 440.8 134.5 439.8 134.7 438.8 136.0 437.8 136.9 436.8 138.0 435.8 138.7 434.8 138.4 433.8 138.6 432.8 138.5 431.8 138.3 430.8 138.6 429.8 139.7 428.8 140.6 427.8 140.7 426.8 139.7 425.8 139.9 424.8 140.5 423.7 142.1 422.7 142.8 421.7 143.9 420.7 144.0 419.7 144.2 418.7 144.2 417.7 144.1 416.7 144.5 415.7 144.2 414.7 144.7 413.7 146.5 412.7 147.0 411.7 146.5 410.7 146.2 409.7 145.9 408.7 146.4 407.7 147.6 406.7 149.1 405.7 150.2 404.7 150.8 403.7 151.5 402.7 151.6 401.7 151.5 400.7 151.8 399.7 152.7 398.7 154.6 397.7 155.2 396.7 155.0 395.7 155.8 394.7 157.1 393.7 157.4 392.7 157.3 391.7 157.2 390.6 157.1 389.6 157.8 388.6 158.7 387.6 160.2 386.6 161.2 385.6 161.4 384.6 161.0 383.6 162.3 382.6 163.0 381.6 162.5 380.6 163.3 379.6 165.0 378.6 166.1 377.6 166.4 376.6 167.4 375.6 167.5 374.6 167.3 373.6 168.5 372.6 169.3 371.6 169.8 370.6 171.3 369.6 172.9 368.6 173.9 367.6 174.4 366.6 173.1 365.6 172.4 364.6 171.4 363.6 170.5 362.6 175.4 361.6 180.8 360.6 184.0 359.6 185.0 358.5 185.6 357.5 186.2 356.5 184.7 355.5 182.7 354.5 179.6 353.5 175.8Z" fill="#00ff00" stroke="#00ff00" stroke-width="2.6" stroke-linecap="round" stroke-linejoin="round" stroke-dasharray="0 2.2"/>
<path d="M353.3 184.2 354.3 185.1 355.3 187.6 356.3 193.6 357.3 197.1 358.3 190.8 359.3 184.9 360.3 178.7 361.3 176.3 362.3 177.1 363.4 177.9 364.4 181.1 365.4 183.6 366.4 180.4 367.4 177.6 368.4 176.4 369.4 176.0 370.4 175.5 371.4 175.4 372.4 174.9 373.4 173.9 374.4 173.1 375.4 172.0 376.4 171.6 377.4 171.2 378.4 171.1 379.4 170.4 380.4 170.1 381.4 170.2 382.4 169.5 383.4 168.3 384.5 166.9 385.5 165.3 386.5 163.8 387.5 162.7 388.5 162.0 389.5 161.1 390.5 161.0 391.5 161.2 392.5 161.1 393.5 160.2 394.5 158.1 395.5 156.9 396.5 157.0 397.5 158.3 398.5 157.5 399.5 156.4 400.5 156.0 401.5 155.6 402.5 155.2 403.5 154.0 404.5 153.1 405.6 152.7 406.6 151.7 407.6 151.8 408.6 152.4 409.6 151.1 410.6 149.6 411.6 149.4 412.6 149.3 413.6 148.9 414.6 149.4 415.6 149.6 416.6 149.1 417.6 148.8 418.6 148.3 419.6 147.3 420.6 146.8 421.6 147.3 422.6 147.0 423.6 145.5 424.6 144.6 425.6 144.8 426.7 144.8 427.7 144.7 428.7 144.0 429.7 142.6 430.7 141.8 431.7 142.0 432.7 141.4 433.7 139.9 434.7 139.2 435.7 138.8 436.7 139.6 437.7 138.5 438.7 137.9 439.7 137.6 440.7 138.1 441.7 138.2 442.7 138.1 443.7 137.9 444.7 138.3 445.7 138.1 446.8 137.7 447.8 137.6 448.8 136.6 449.8 135.7 450.8 135.3 451.8 134.7 452.8 134.4 453.8 134.2 454.8 134.3 455.8 133.8 456.8 132.9 457.8 133.5 458.8 133.9 459.8 133.6 460.8 133.6 461.8 133.2 462.8 132.1 463.8 131.8 464.8 132.4 465.8 132.0 466.8 130.5 467.9 129.9 468.9 130.3 469.9 130.8 470.9 130.2 471.9 130.0 472.9 131.1 473.9 131.0 474.9 130.4 475.9 130.1 476.9 129.7 477.9 129.8 478.9 130.1 479.9 129.7 480.9 129.0 481.9 129.4 482.9 129.8 483.9 128.4 484.9 127.5 485.9 127.6 486.9 128.3 487.9 129.4 487.9 136.8 486.9 136.8 485.9 136.0 484.9 135.8 483.9 135.8 482.9 135.1 481.9 134.9 480.9 135.2 479.9 134.9 478.9 135.1 477.9 135.2 476.9 135.5 475.9 135.8 474.9 135.5 473.9 136.1 472.9 137.1 471.9 136.3 470.9 135.4 469.9 136.1 468.9 136.4 467.9 136.6 466.8 137.3 465.8 136.7 464.8 136.3 463.8 137.3 462.8 138.1 461.8 138.5 460.8 138.8 459.8 138.2 458.8 138.3 457.8 139.8 456.8 140.5 455.8 140.6 454.8 140.5 453.8 139.9 452.8 140.1 451.8 141.0 450.8 141.6 449.8 141.3 448.8 141.2 447.8 141.5 446.8 141.3 445.7 141.8 444.7 143.1 443.7 144.1 442.7 144.1 441.7 143.1 440.7 142.5 439.7 142.7 438.7 143.0 437.7 143.3 436.7 143.6 435.7 144.7 434.7 145.5 433.7 146.5 432.7 147.4 431.7 146.9 430.7 147.0 429.7 148.5 428.7 149.5 427.7 149.3 426.7 148.6 425.6 148.9 424.6 150.1 423.6 149.6 422.6 149.0 421.6 149.6 420.6 150.7 419.6 151.5 418.6 152.2 417.6 152.6 416.6 152.4 415.6 152.9 414.6 154.3 413.6 154.1 412.6 153.6 411.6 153.9 410.6 154.1 409.6 155.3 408.6 156.5 407.6 156.1 406.6 156.5 405.6 158.4 404.5 159.9 403.5 161.0 402.5 161.6 401.5 162.3 400.5 162.0 399.5 160.9 398.5 161.4 397.5 162.4 396.5 163.0 395.5 164.0 394.5 165.1 393.5 166.3 392.5 166.6 391.5 165.9 390.5 165.3 389.5 166.0 388.5 168.6 387.5 170.0 386.5 170.0 385.5 169.9 384.5 170.3 383.4 171.2 382.4 172.1 381.4 173.1 380.4 174.5 379.4 175.9 378.4 176.9 377.4 176.9 376.4 178.0 375.4 180.0 374.4 180.2 373.4 179.1 372.4 179.6 371.4 181.0 370.4 181.2 369.4 181.4 368.4 184.0 367.4 185.5 366.4 186.7 365.4 188.9 364.4 188.7 363.4 188.0 362.3 187.8 361.3 186.9 360.3 189.7 359.3 197.4 358.3 202.9 357.3 206.4 356.3 202.4 355.3 197.2 354.3 193.9 353.3 192.0Z" fill="#ff00ff" stroke="#ff00ff" stroke-width="2.6" stroke-linecap="round" stroke-linejoin="round" stroke-dasharray="0 2.2"/>
<path d="M330.60 237.75v-2.4M330.60 41.55v2.4M398.50 237.75v-2.4M398.50 41.55v2.4M467.60 237.75v-2.4M467.60 41.55v2.4M536.00 237.75v-2.4M536.00 41.55v2.4M330.60 41.55h2.4M536.00 41.55h-2.4M330.60 91.10h2.4M536.00 91.10h-2.4M330.60 140.80h2.4M536.00 140.80h-2.4M330.60 189.50h2.4M536.00 189.50h-2.4M330.60 237.75h2.4M536.00 237.75h-2.4" stroke="#3a3a3a" stroke-width="1.1" fill="none"/>
<rect x="330.60" y="41.55" width="205.40" height="196.20" fill="none" stroke="#3a3a3a" stroke-width="1.25"/>
<text transform="translate(330.2 265.9) scale(1 1.100)" font-size="19.20" fill="#262626" stroke="#262626" stroke-width="0.3" text-anchor="middle">0</text>
<text transform="translate(399.4 265.9) scale(1 1.100)" font-size="19.20" fill="#262626" stroke="#262626" stroke-width="0.3" text-anchor="middle">30</text>
<text transform="translate(467.2 265.9) scale(1 1.100)" font-size="19.20" fill="#262626" stroke="#262626" stroke-width="0.3" text-anchor="middle">60</text>
<text transform="translate(536.7 265.9) scale(1 1.100)" font-size="19.20" fill="#262626" stroke="#262626" stroke-width="0.3" text-anchor="middle">90</text>
<text transform="translate(322.3 49.9) scale(1 1.100)" font-size="19.20" fill="#262626" stroke="#262626" stroke-width="0.3" text-anchor="end">70</text>
<text transform="translate(322.3 98.5) scale(1 1.100)" font-size="19.20" fill="#262626" stroke="#262626" stroke-width="0.3" text-anchor="end">60</text>
<text transform="translate(322.3 148.1) scale(1 1.100)" font-size="19.20" fill="#262626" stroke="#262626" stroke-width="0.3" text-anchor="end">50</text>
<text transform="translate(322.3 196.6) scale(1 1.100)" font-size="19.20" fill="#262626" stroke="#262626" stroke-width="0.3" text-anchor="end">40</text>
<text transform="translate(322.3 246.4) scale(1 1.100)" font-size="19.20" fill="#262626" stroke="#262626" stroke-width="0.3" text-anchor="end">30</text>
<text transform="translate(353.5 73.5) scale(1 1.055)" font-size="20.00" fill="#000" stroke="#000" stroke-width="0.3">MCHL</text>
<path d="M126.75 314.90V509.50M195.90 314.90V509.50M58.70 363.60H264.00M58.70 412.50H264.00M58.70 460.90H264.00" stroke="#e3e3e3" stroke-width="1.1" fill="none"/>
<path d="M81.6 430.0 82.6 429.8 83.6 428.0 84.6 427.5 85.6 427.4 86.6 426.1 87.6 425.7 88.6 425.7 89.7 424.4 90.7 424.3 91.7 424.8 92.7 424.6 93.7 424.5 94.7 424.0 95.7 423.6 96.7 423.1 97.7 422.0 98.7 419.9 99.7 419.7 100.7 420.0 101.7 419.0 102.7 418.6 103.7 419.0 104.7 417.3 105.7 416.2 106.7 417.1 107.7 417.6 108.7 417.5 109.7 416.6 110.7 415.9 111.7 415.2 112.7 413.5 113.7 412.4 114.7 412.9 115.7 413.4 116.7 413.1 117.7 412.6 118.7 411.8 119.8 411.4 120.8 411.2 121.8 410.7 122.8 410.0 123.8 409.1 124.8 408.8 125.8 409.0 126.8 408.4 127.8 408.0 128.8 407.4 129.8 406.0 130.8 405.5 131.8 406.4 132.8 406.5 133.8 405.0 134.8 404.0 135.8 403.8 136.8 403.7 137.8 403.3 138.8 403.5 139.8 403.7 140.8 403.1 141.8 402.6 142.8 402.2 143.8 402.5 144.8 402.2 145.8 401.0 146.8 401.4 147.8 402.0 148.8 401.7 149.9 401.6 150.9 401.0 151.9 400.1 152.9 400.5 153.9 401.7 154.9 401.3 155.9 399.7 156.9 398.9 157.9 398.9 158.9 399.1 159.9 398.7 160.9 398.9 161.9 400.8 162.9 400.9 163.9 399.4 164.9 399.5 165.9 399.5 166.9 399.5 167.9 400.1 168.9 400.0 169.9 398.8 170.9 398.0 171.9 398.6 172.9 398.8 173.9 398.3 174.9 398.4 175.9 398.6 176.9 398.5 177.9 398.6 179.0 399.1 180.0 399.0 181.0 398.1 182.0 396.9 183.0 396.7 184.0 396.6 185.0 396.7 186.0 397.5 187.0 397.1 188.0 397.1 189.0 398.4 190.0 399.3 191.0 398.8 192.0 397.6 193.0 397.9 194.0 398.2 195.0 397.3 196.0 396.6 197.0 396.2 198.0 396.8 199.0 397.8 200.0 397.6 201.0 396.9 202.0 397.4 203.0 398.6 204.0 398.0 205.0 397.5 206.0 398.3 207.0 397.7 208.0 396.7 209.1 396.5 210.1 396.8 211.1 396.8 212.1 396.2 213.1 396.4 214.1 397.5 215.1 398.4 216.1 398.1 217.1 397.7 218.1 397.7 219.1 397.6 220.1 396.2 220.1 403.1 219.1 402.5 218.1 402.6 217.1 402.9 216.1 403.2 215.1 403.0 214.1 403.2 213.1 403.9 212.1 403.3 211.1 401.9 210.1 401.9 209.1 403.5 208.0 404.3 207.0 402.6 206.0 401.9 205.0 403.0 204.0 404.8 203.0 404.5 202.0 402.3 201.0 401.9 200.0 403.2 199.0 404.8 198.0 404.8 197.0 403.5 196.0 403.9 195.0 404.5 194.0 403.1 193.0 401.9 192.0 401.9 191.0 401.9 190.0 403.0 189.0 403.8 188.0 403.4 187.0 403.2 186.0 403.8 185.0 403.8 184.0 403.3 183.0 403.3 182.0 402.8 181.0 402.9 180.0 403.9 179.0 403.7 177.9 402.6 176.9 402.7 175.9 403.8 174.9 403.7 173.9 403.1 172.9 402.8 171.9 402.9 170.9 403.2 169.9 403.4 168.9 403.2 167.9 403.4 166.9 404.5 165.9 404.8 164.9 403.8 163.9 403.5 162.9 404.3 161.9 405.2 160.9 405.6 159.9 405.5 158.9 405.3 157.9 405.4 156.9 405.8 155.9 405.8 154.9 405.6 153.9 405.3 152.9 405.3 151.9 406.1 150.9 406.6 149.9 406.3 148.8 406.5 147.8 407.2 146.8 407.6 145.8 407.9 144.8 408.5 143.8 408.9 142.8 409.7 141.8 409.8 140.8 408.7 139.8 408.6 138.8 408.6 137.8 409.0 136.8 409.6 135.8 409.6 134.8 410.7 133.8 412.3 132.8 413.2 131.8 413.5 130.8 413.8 129.8 413.6 128.8 412.8 127.8 412.7 126.8 412.9 125.8 413.4 124.8 415.1 123.8 415.7 122.8 414.5 121.8 415.0 120.8 416.5 119.8 417.4 118.7 418.2 117.7 419.2 116.7 419.6 115.7 420.1 114.7 420.5 113.7 420.5 112.7 421.6 111.7 422.3 110.7 421.8 109.7 422.0 108.7 422.5 107.7 423.1 106.7 424.6 105.7 425.5 104.7 425.4 103.7 426.5 102.7 427.4 101.7 427.4 100.7 427.9 99.7 428.3 98.7 428.7 97.7 430.0 96.7 430.6 95.7 430.4 94.7 429.6 93.7 429.6 92.7 430.1 91.7 431.4 90.7 432.1 89.7 432.9 88.6 433.0 87.6 433.2 86.6 434.2 85.6 434.8 84.6 434.6 83.6 434.9 82.6 436.0 81.6 437.5Z" fill="#0000ff" stroke="#0000ff" stroke-width="2.6" stroke-linecap="round" stroke-linejoin="round" stroke-dasharray="0 2.2"/>
<path d="M81.6 436.1 82.6 436.1 83.6 436.8 84.6 435.7 85.6 434.8 86.6 434.6 87.6 433.6 88.6 432.8 89.7 432.7 90.7 432.7 91.7 432.6 92.7 432.4 93.7 431.4 94.7 431.6 95.7 431.7 96.7 430.7 97.7 428.9 98.7 428.3 99.7 427.1 100.7 426.4 101.7 427.4 102.7 427.3 103.7 425.2 104.7 424.7 105.7 425.0 106.7 424.5 107.7 424.3 108.7 423.3 109.7 422.1 110.7 421.7 111.7 421.7 112.7 420.6 113.7 419.4 114.7 420.1 115.7 420.9 116.7 419.9 117.7 418.6 118.7 417.9 119.8 417.5 120.8 416.5 121.8 414.9 122.8 414.4 123.8 413.8 124.8 414.2 125.8 414.9 126.8 414.6 127.8 414.0 128.8 412.8 129.8 410.9 130.8 410.4 131.8 410.2 132.8 410.7 133.8 410.7 134.8 410.2 135.8 409.6 136.8 409.4 137.8 409.2 138.8 408.9 139.8 408.2 140.8 407.5 141.8 406.8 142.8 406.0 143.8 405.7 144.8 406.5 145.8 406.7 146.8 405.6 147.8 405.3 148.8 405.9 149.9 404.9 150.9 404.2 151.9 403.9 152.9 403.7 153.9 403.5 154.9 404.1 155.9 405.3 156.9 404.0 157.9 403.7 158.9 404.7 159.9 404.6 160.9 404.6 161.9 404.7 162.9 403.7 163.9 403.8 164.9 404.6 165.9 404.0 166.9 403.0 167.9 403.7 168.9 405.1 169.9 404.6 170.9 404.3 171.9 404.2 172.9 403.2 173.9 402.7 174.9 403.3 175.9 404.1 176.9 403.9 177.9 403.4 179.0 403.4 180.0 403.9 181.0 404.3 182.0 404.0 183.0 403.8 184.0 403.9 185.0 403.6 186.0 403.6 187.0 404.4 188.0 404.2 189.0 402.7 190.0 402.3 191.0 402.9 192.0 403.1 193.0 403.3 194.0 404.4 195.0 404.3 196.0 404.1 197.0 404.1 198.0 403.6 199.0 403.8 200.0 404.6 201.0 404.4 202.0 403.9 203.0 404.5 204.0 404.7 205.0 404.5 206.0 404.5 207.0 403.8 208.0 403.7 209.1 404.1 210.1 404.1 211.1 404.9 212.1 405.1 213.1 404.4 214.1 403.6 215.1 402.9 216.1 403.3 217.1 404.0 218.1 403.5 219.1 403.4 220.1 403.6 220.1 407.7 219.1 407.9 218.1 407.5 217.1 408.0 216.1 408.7 215.1 408.8 214.1 408.7 213.1 408.7 212.1 408.0 211.1 407.3 210.1 407.5 209.1 407.3 208.0 407.4 207.0 407.4 206.0 407.0 205.0 407.2 204.0 407.2 203.0 407.4 202.0 407.9 201.0 407.7 200.0 406.7 199.0 406.7 198.0 407.2 197.0 407.9 196.0 409.0 195.0 409.3 194.0 409.2 193.0 408.7 192.0 408.0 191.0 408.3 190.0 408.7 189.0 409.1 188.0 409.6 187.0 409.6 186.0 409.2 185.0 408.3 184.0 409.0 183.0 409.2 182.0 408.5 181.0 408.6 180.0 407.9 179.0 408.1 177.9 408.8 176.9 407.9 175.9 407.6 174.9 408.4 173.9 408.5 172.9 407.8 171.9 408.1 170.9 408.7 169.9 408.9 168.9 408.8 167.9 408.0 166.9 407.1 165.9 407.3 164.9 408.1 163.9 408.8 162.9 408.8 161.9 408.8 160.9 409.3 159.9 409.7 158.9 409.5 157.9 409.7 156.9 410.6 155.9 411.2 154.9 411.4 153.9 411.1 152.9 411.0 151.9 412.0 150.9 413.1 149.9 413.4 148.8 413.2 147.8 412.9 146.8 413.4 145.8 414.7 144.8 415.9 143.8 416.3 142.8 416.3 141.8 416.3 140.8 416.4 139.8 415.5 138.8 415.6 137.8 416.2 136.8 417.2 135.8 419.1 134.8 419.9 133.8 420.0 132.8 420.5 131.8 420.8 130.8 421.3 129.8 421.9 128.8 422.3 127.8 421.8 126.8 422.5 125.8 424.4 124.8 424.6 123.8 424.8 122.8 425.2 121.8 426.1 120.8 428.1 119.8 429.0 118.7 429.3 117.7 430.3 116.7 430.5 115.7 430.2 114.7 430.3 113.7 430.8 112.7 431.8 111.7 433.3 110.7 434.4 109.7 434.9 108.7 435.1 107.7 434.9 106.7 434.9 105.7 436.4 104.7 437.8 103.7 437.6 102.7 437.6 101.7 439.3 100.7 440.7 99.7 441.6 98.7 442.7 97.7 442.8 96.7 443.5 95.7 445.4 94.7 446.2 93.7 446.4 92.7 447.1 91.7 447.4 90.7 447.8 89.7 449.5 88.6 450.3 87.6 449.7 86.6 450.4 85.6 452.3 84.6 453.4 83.6 454.1 82.6 454.8 81.6 455.5Z" fill="#ff0000" stroke="#ff0000" stroke-width="2.6" stroke-linecap="round" stroke-linejoin="round" stroke-dasharray="0 2.2"/>
<path d="M81.6 429.8 82.6 429.7 83.6 429.7 84.6 429.4 85.6 428.9 86.6 428.0 87.6 427.0 88.6 425.7 89.7 424.3 90.7 423.6 91.7 423.2 92.7 422.9 93.7 422.7 94.7 422.2 95.7 422.0 96.7 421.5 97.7 421.0 98.7 421.0 99.7 420.2 100.7 418.8 101.7 419.5 102.7 420.0 103.7 419.4 104.7 417.7 105.7 417.1 106.7 417.7 107.7 417.6 108.7 416.7 109.7 415.4 110.7 414.1 111.7 413.2 112.7 413.5 113.7 413.6 114.7 413.3 115.7 413.0 116.7 413.1 117.7 412.9 118.7 412.3 119.8 410.7 120.8 410.6 121.8 410.4 122.8 410.0 123.8 409.7 124.8 407.9 125.8 406.3 126.8 406.0 127.8 406.5 128.8 406.1 129.8 405.5 130.8 405.1 131.8 405.4 132.8 405.0 133.8 404.1 134.8 404.0 135.8 404.4 136.8 404.9 137.8 404.3 138.8 403.6 139.8 403.7 140.8 403.8 141.8 403.8 142.8 403.2 143.8 401.9 144.8 401.5 145.8 400.8 146.8 400.0 147.8 400.2 148.8 400.5 149.9 400.0 150.9 398.8 151.9 397.5 152.9 397.4 153.9 398.0 154.9 398.0 155.9 396.9 156.9 396.4 157.9 396.5 158.9 395.4 159.9 394.5 160.9 394.7 161.9 394.8 162.9 393.5 163.9 392.1 164.9 392.5 165.9 393.1 166.9 392.6 167.9 392.6 168.9 392.0 169.9 391.3 170.9 390.7 171.9 389.4 172.9 389.1 173.9 388.9 174.9 389.9 175.9 390.2 176.9 390.2 177.9 389.9 179.0 389.3 180.0 388.8 181.0 388.9 182.0 389.7 183.0 389.1 184.0 388.0 185.0 389.0 186.0 389.5 187.0 388.9 188.0 387.6 189.0 387.8 190.0 387.6 191.0 387.3 192.0 388.0 193.0 387.8 194.0 386.7 195.0 386.1 196.0 385.9 197.0 386.5 198.0 386.9 199.0 386.3 200.0 386.0 201.0 385.9 202.0 385.1 203.0 384.7 204.0 384.7 205.0 384.7 206.0 384.9 207.0 385.0 208.0 384.5 209.1 383.8 210.1 383.1 211.1 383.1 212.1 383.6 213.1 383.9 214.1 383.8 215.1 383.8 216.1 384.0 217.1 383.8 218.1 383.2 219.1 382.7 220.1 382.8 220.1 388.3 219.1 388.3 218.1 388.0 217.1 387.3 216.1 388.0 215.1 389.1 214.1 388.8 213.1 388.2 212.1 388.4 211.1 388.9 210.1 389.5 209.1 389.3 208.0 388.7 207.0 388.6 206.0 388.5 205.0 388.4 204.0 388.8 203.0 390.0 202.0 390.7 201.0 389.8 200.0 389.0 199.0 390.5 198.0 391.6 197.0 390.9 196.0 390.0 195.0 389.5 194.0 390.2 193.0 391.0 192.0 390.7 191.0 390.9 190.0 391.8 189.0 392.5 188.0 393.0 187.0 393.5 186.0 394.2 185.0 394.3 184.0 394.3 183.0 394.8 182.0 395.1 181.0 395.0 180.0 394.0 179.0 393.4 177.9 393.4 176.9 393.9 175.9 393.7 174.9 393.7 173.9 394.3 172.9 394.7 171.9 395.1 170.9 396.6 169.9 397.9 168.9 398.0 167.9 396.5 166.9 396.1 165.9 397.6 164.9 398.7 163.9 398.6 162.9 398.6 161.9 399.5 160.9 400.6 159.9 400.4 158.9 400.2 157.9 400.5 156.9 401.0 155.9 401.4 154.9 401.0 153.9 401.2 152.9 401.7 151.9 402.0 150.9 403.0 149.9 403.3 148.8 403.6 147.8 404.6 146.8 405.2 145.8 406.3 144.8 406.0 143.8 405.2 142.8 405.8 141.8 406.2 140.8 407.2 139.8 408.5 138.8 408.9 137.8 408.7 136.8 409.2 135.8 409.2 134.8 409.2 133.8 410.6 132.8 411.0 131.8 410.7 130.8 411.5 129.8 412.1 128.8 412.3 127.8 412.8 126.8 412.9 125.8 413.6 124.8 415.1 123.8 415.7 122.8 415.4 121.8 415.2 120.8 415.4 119.8 416.6 118.7 418.3 117.7 419.9 116.7 420.8 115.7 420.3 114.7 420.0 113.7 420.8 112.7 422.8 111.7 424.2 110.7 424.7 109.7 425.5 108.7 425.5 107.7 424.9 106.7 426.1 105.7 427.1 104.7 426.3 103.7 426.7 102.7 427.5 101.7 429.2 100.7 430.4 99.7 431.3 98.7 431.4 97.7 431.5 96.7 432.5 95.7 433.3 94.7 434.1 93.7 435.1 92.7 436.6 91.7 437.7 90.7 437.9 89.7 438.7 88.6 439.6 87.6 440.6 86.6 441.5 85.6 441.6 84.6 442.4 83.6 444.0 82.6 445.1 81.6 445.9Z" fill="#00ff00" stroke="#00ff00" stroke-width="2.6" stroke-linecap="round" stroke-linejoin="round" stroke-dasharray="0 2.2"/>
<path d="M81.6 446.0 82.6 445.5 83.6 444.7 84.6 445.0 85.6 443.8 86.6 441.7 87.6 441.0 88.6 441.0 89.7 440.9 90.7 441.0 91.7 441.0 92.7 440.4 93.7 439.5 94.7 438.2 95.7 437.8 96.7 437.4 97.7 437.7 98.7 437.4 99.7 436.7 100.7 436.2 101.7 435.4 102.7 435.3 103.7 435.6 104.7 434.4 105.7 434.3 106.7 434.4 107.7 433.5 108.7 433.0 109.7 433.2 110.7 432.4 111.7 431.7 112.7 431.8 113.7 431.5 114.7 430.4 115.7 429.5 116.7 429.5 117.7 429.3 118.7 428.4 119.8 427.7 120.8 427.5 121.8 426.2 122.8 425.5 123.8 426.4 124.8 425.5 125.8 424.4 126.8 423.7 127.8 422.8 128.8 422.8 129.8 423.3 130.8 423.2 131.8 421.8 132.8 420.3 133.8 419.8 134.8 419.9 135.8 420.7 136.8 420.3 137.8 419.4 138.8 418.4 139.8 417.3 140.8 417.3 141.8 417.8 142.8 417.2 143.8 416.4 144.8 415.4 145.8 414.7 146.8 414.6 147.8 414.2 148.8 414.1 149.9 414.4 150.9 413.7 151.9 412.1 152.9 411.4 153.9 411.7 154.9 412.0 155.9 411.4 156.9 411.4 157.9 411.3 158.9 410.0 159.9 409.6 160.9 410.5 161.9 410.5 162.9 410.2 163.9 409.7 164.9 408.0 165.9 407.9 166.9 409.4 167.9 409.0 168.9 407.4 169.9 406.9 170.9 407.2 171.9 407.0 172.9 407.0 173.9 406.6 174.9 406.0 175.9 405.7 176.9 405.6 177.9 405.6 179.0 405.4 180.0 406.2 181.0 406.0 182.0 404.7 183.0 404.4 184.0 403.7 185.0 404.1 186.0 405.2 187.0 405.1 188.0 404.5 189.0 403.9 190.0 403.6 191.0 403.4 192.0 402.8 193.0 402.0 194.0 402.2 195.0 403.2 196.0 403.6 197.0 403.6 198.0 403.5 199.0 402.2 200.0 401.2 201.0 401.3 202.0 401.7 203.0 401.6 204.0 400.6 205.0 400.1 206.0 400.3 207.0 401.0 208.0 400.9 209.1 400.4 210.1 399.8 211.1 400.6 212.1 401.6 213.1 400.8 214.1 400.0 215.1 400.1 216.1 400.3 217.1 401.1 218.1 401.7 219.1 401.2 220.1 401.1 220.1 412.7 219.1 413.4 218.1 413.5 217.1 413.6 216.1 413.8 215.1 414.0 214.1 413.5 213.1 413.3 212.1 413.7 211.1 414.1 210.1 414.4 209.1 414.2 208.0 412.9 207.0 412.6 206.0 413.6 205.0 414.0 204.0 414.4 203.0 413.7 202.0 412.4 201.0 413.0 200.0 413.5 199.0 413.0 198.0 413.3 197.0 413.6 196.0 413.3 195.0 413.2 194.0 413.2 193.0 413.2 192.0 414.1 191.0 413.8 190.0 412.7 189.0 412.8 188.0 413.5 187.0 415.1 186.0 416.0 185.0 416.1 184.0 415.7 183.0 415.7 182.0 415.0 181.0 414.4 180.0 414.8 179.0 414.7 177.9 414.6 176.9 415.5 175.9 416.3 174.9 416.8 173.9 416.6 172.9 415.6 171.9 415.9 170.9 417.6 169.9 418.4 168.9 418.3 167.9 418.3 166.9 418.6 165.9 419.6 164.9 420.5 163.9 421.1 162.9 420.7 161.9 419.1 160.9 419.5 159.9 422.0 158.9 423.1 157.9 423.5 156.9 423.0 155.9 422.8 154.9 423.8 153.9 424.7 152.9 424.6 151.9 424.4 150.9 424.8 149.9 424.8 148.8 424.3 147.8 423.9 146.8 423.8 145.8 424.3 144.8 425.0 143.8 425.2 142.8 426.0 141.8 426.9 140.8 427.6 139.8 428.1 138.8 428.8 137.8 428.9 136.8 428.6 135.8 428.4 134.8 429.1 133.8 429.9 132.8 430.3 131.8 431.1 130.8 431.6 129.8 431.8 128.8 432.5 127.8 433.2 126.8 433.8 125.8 434.6 124.8 436.0 123.8 437.3 122.8 437.6 121.8 438.4 120.8 438.8 119.8 438.2 118.7 438.8 117.7 439.5 116.7 440.6 115.7 443.0 114.7 443.7 113.7 444.3 112.7 443.6 111.7 443.5 110.7 443.7 109.7 444.5 108.7 445.7 107.7 446.7 106.7 447.7 105.7 448.7 104.7 449.9 103.7 450.8 102.7 450.8 101.7 451.5 100.7 452.6 99.7 453.2 98.7 453.6 97.7 453.4 96.7 453.7 95.7 454.6 94.7 455.6 93.7 456.8 92.7 457.6 91.7 457.9 90.7 458.5 89.7 459.2 88.6 459.1 87.6 459.5 86.6 460.9 85.6 461.8 84.6 462.1 83.6 461.8 82.6 462.2 81.6 463.9Z" fill="#ff00ff" stroke="#ff00ff" stroke-width="2.6" stroke-linecap="round" stroke-linejoin="round" stroke-dasharray="0 2.2"/>
<path d="M95.1 459.3h0M99.3 454.5h0M107.7 452.9h0M106.9 457.9h0M107.7 449.8h0M110.4 447.2h0M110.1 453.7h0M130.6 437.4h0M138.1 429.7h0M154.0 427.8h0M154.6 435.3h0M159.5 425.8h0M160.6 423.4h0M167.8 419.8h0M171.3 419.1h0M170.8 425.7h0M173.5 418.1h0M177.3 417.8h0M180.9 419.6h0M186.4 419.1h0M192.4 416.4h0M194.2 416.5h0M197.2 417.1h0M200.6 416.3h0M213.4 417.6h0M218.0 416.8h0M205.4 419.1h0M210.3 418.6h0M213.7 424.9h0M216.9 423.4h0M195.8 414.7h0M132.9 441.5h0M119.2 448.8h0M126.5 442.9h0M137.5 435.6h0M106.1 456.5h0M97.4 458.0h0M109.5 426.7h0M159.7 405.8h0M126.0 422.1h0M98.0 432.0h0M112.6 426.3h0M113.9 425.0h0M138.8 414.8h0M108.0 428.7h0M100.2 434.7h0M136.1 413.4h0M140.1 414.2h0M162.3 406.9h0M96.3 436.0h0M127.8 421.4h0M108.0 430.4h0M137.0 416.5h0M121.6 420.6h0M166.9 403.1h0M145.8 410.8h0M105.4 433.4h0M96.4 432.9h0M146.5 408.7h0M96.7 434.1h0M130.4 416.8h0M118.5 421.7h0M100.6 433.0h0M149.1 408.1h0M149.1 409.0h0M153.2 406.6h0M120.9 422.0h0M161.1 404.1h0M125.7 418.9h0M158.4 406.4h0M140.9 413.5h0M137.8 413.8h0M101.0 432.4h0M167.9 401.7h0M148.5 410.8h0M149.0 409.7h0M127.4 417.8h0M101.3 431.7h0M97.3 434.0h0M130.3 419.3h0M146.3 411.0h0M140.1 411.1h0M113.9 429.0h0" fill="none" stroke="#ff00ff" stroke-width="2.8" stroke-linecap="round"/>
<path d="M83.7 423.4h0M85.3 422.0h0M86.7 423.9h0M82.8 425.4h0M107.7 413.7h0M109.5 414.2h0M131.3 403.5h0M133.1 404.5h0M98.6 418.6h0M118.0 409.3h0" fill="none" stroke="#0000ff" stroke-width="2.8" stroke-linecap="round"/>
<path d="M58.70 509.50v-2.4M58.70 314.90v2.4M126.75 509.50v-2.4M126.75 314.90v2.4M195.90 509.50v-2.4M195.90 314.90v2.4M264.00 509.50v-2.4M264.00 314.90v2.4M58.70 314.90h2.4M264.00 314.90h-2.4M58.70 363.60h2.4M264.00 363.60h-2.4M58.70 412.50h2.4M264.00 412.50h-2.4M58.70 460.90h2.4M264.00 460.90h-2.4M58.70 509.50h2.4M264.00 509.50h-2.4" stroke="#3a3a3a" stroke-width="1.1" fill="none"/>
<rect x="58.70" y="314.90" width="205.30" height="194.60" fill="none" stroke="#3a3a3a" stroke-width="1.25"/>
<text transform="translate(58.2 537.7) scale(1 1.100)" font-size="19.20" fill="#262626" stroke="#262626" stroke-width="0.3" text-anchor="middle">0</text>
<text transform="translate(127.7 537.7) scale(1 1.100)" font-size="19.20" fill="#262626" stroke="#262626" stroke-width="0.3" text-anchor="middle">30</text>
<text transform="translate(195.6 537.7) scale(1 1.100)" font-size="19.20" fill="#262626" stroke="#262626" stroke-width="0.3" text-anchor="middle">60</text>
<text transform="translate(264.7 537.7) scale(1 1.100)" font-size="19.20" fill="#262626" stroke="#262626" stroke-width="0.3" text-anchor="middle">90</text>
<text transform="translate(50.4 322.3) scale(1 1.100)" font-size="19.20" fill="#262626" stroke="#262626" stroke-width="0.3" text-anchor="end">70</text>
<text transform="translate(50.4 371.2) scale(1 1.100)" font-size="19.20" fill="#262626" stroke="#262626" stroke-width="0.3" text-anchor="end">60</text>
<text transform="translate(50.4 419.6) scale(1 1.100)" font-size="19.20" fill="#262626" stroke="#262626" stroke-width="0.3" text-anchor="end">50</text>
<text transform="translate(50.4 469.1) scale(1 1.100)" font-size="19.20" fill="#262626" stroke="#262626" stroke-width="0.3" text-anchor="end">40</text>
<text transform="translate(50.4 518.1) scale(1 1.100)" font-size="19.20" fill="#262626" stroke="#262626" stroke-width="0.3" text-anchor="end">30</text>
<text transform="translate(81.6 346.4) scale(1 1.055)" font-size="20.00" fill="#000" stroke="#000" stroke-width="0.3">HOFN</text>
<path d="M398.50 314.90V509.50M467.60 314.90V509.50M330.60 363.60H536.00M330.60 412.50H536.00M330.60 460.90H536.00" stroke="#e3e3e3" stroke-width="1.1" fill="none"/>
<path d="M353.3 453.3 354.3 453.5 355.3 453.4 356.3 453.8 357.3 453.8 358.3 452.5 359.3 451.3 360.3 450.6 361.3 450.0 362.3 449.9 363.3 450.5 364.3 450.2 365.4 449.1 366.4 448.3 367.4 447.1 368.4 446.8 369.4 447.1 370.4 446.6 371.4 445.5 372.4 444.7 373.4 444.4 374.4 444.3 375.4 443.1 376.4 441.8 377.4 442.6 378.4 442.9 379.4 441.8 380.4 441.1 381.4 440.3 382.4 438.9 383.4 438.4 384.4 438.3 385.4 437.8 386.4 437.4 387.4 437.7 388.4 437.6 389.4 436.6 390.4 435.4 391.5 434.8 392.5 434.7 393.5 433.8 394.5 433.2 395.5 433.4 396.5 432.6 397.5 430.7 398.5 430.3 399.5 430.4 400.5 429.9 401.5 429.5 402.5 429.2 403.5 428.6 404.5 426.5 405.5 425.2 406.5 425.2 407.5 426.1 408.5 425.0 409.5 423.8 410.5 423.2 411.5 422.8 412.5 422.8 413.5 422.3 414.5 421.3 415.5 421.2 416.6 421.7 417.6 421.5 418.6 421.0 419.6 420.2 420.6 419.2 421.6 419.1 422.6 418.6 423.6 417.4 424.6 416.3 425.6 414.5 426.6 414.0 427.6 413.5 428.6 413.0 429.6 412.9 430.6 413.1 431.6 413.1 432.6 412.2 433.6 411.2 434.6 410.2 435.6 409.7 436.6 409.8 437.6 410.0 438.6 410.1 439.6 409.1 440.6 408.0 441.6 408.0 442.7 407.5 443.7 406.9 444.7 406.4 445.7 406.1 446.7 405.8 447.7 405.2 448.7 405.1 449.7 405.5 450.7 405.9 451.7 406.2 452.7 405.5 453.7 403.7 454.7 403.6 455.7 403.9 456.7 402.9 457.7 402.6 458.7 403.4 459.7 403.5 460.7 402.8 461.7 401.8 462.7 401.3 463.7 401.1 464.7 400.8 465.7 400.1 466.7 399.4 467.8 398.8 468.8 398.2 469.8 397.7 470.8 397.6 471.8 397.5 472.8 397.4 473.8 397.0 474.8 396.8 475.8 397.4 476.8 398.2 477.8 397.5 478.8 395.6 479.8 395.5 480.8 395.5 481.8 395.9 482.8 396.2 483.8 395.9 484.8 396.1 485.8 396.8 486.8 396.2 487.8 395.8 488.8 397.3 489.8 397.8 490.8 397.7 491.8 397.1 492.8 397.1 493.9 396.6 494.9 396.1 495.9 396.7 496.9 397.2 497.9 396.6 498.9 395.6 499.9 395.3 500.9 395.5 501.9 395.5 502.9 395.3 503.9 394.9 504.9 394.8 505.9 394.9 506.9 394.9 507.9 395.4 508.9 396.6 509.9 396.7 510.9 395.6 511.9 395.4 512.9 396.1 513.9 396.2 514.9 396.4 515.9 396.4 516.9 395.9 517.9 396.0 517.9 398.6 516.9 398.5 515.9 398.3 514.9 398.3 513.9 398.5 512.9 398.9 511.9 398.6 510.9 398.4 509.9 398.8 508.9 398.8 507.9 398.7 506.9 399.3 505.9 400.2 504.9 399.7 503.9 398.5 502.9 398.2 501.9 398.1 500.9 398.1 499.9 397.9 498.9 397.6 497.9 397.6 496.9 398.6 495.9 398.4 494.9 398.1 493.9 398.5 492.8 399.1 491.8 399.8 490.8 399.2 489.8 398.9 488.8 399.9 487.8 400.0 486.8 400.1 485.8 400.4 484.8 400.5 483.8 400.2 482.8 399.6 481.8 399.3 480.8 399.4 479.8 399.1 478.8 398.6 477.8 399.3 476.8 400.0 475.8 399.8 474.8 400.7 473.8 402.2 472.8 402.4 471.8 401.8 470.8 401.0 469.8 401.5 468.8 402.3 467.8 402.5 466.7 403.1 465.7 403.6 464.7 403.6 463.7 403.9 462.7 404.8 461.7 405.3 460.7 404.8 459.7 404.5 458.7 405.5 457.7 406.5 456.7 406.8 455.7 406.8 454.7 406.2 453.7 406.6 452.7 408.3 451.7 408.7 450.7 408.0 449.7 408.0 448.7 409.2 447.7 409.8 446.7 409.8 445.7 409.8 444.7 410.3 443.7 411.5 442.7 412.5 441.6 412.4 440.6 412.5 439.6 413.3 438.6 413.5 437.6 413.7 436.6 414.7 435.6 414.7 434.6 415.0 433.6 415.8 432.6 416.0 431.6 416.6 430.6 417.5 429.6 418.6 428.6 418.9 427.6 418.4 426.6 418.9 425.6 419.8 424.6 420.5 423.6 421.1 422.6 420.9 421.6 420.6 420.6 422.1 419.6 423.2 418.6 423.4 417.6 424.2 416.6 425.0 415.5 426.1 414.5 427.3 413.5 427.9 412.5 428.1 411.5 428.5 410.5 428.2 409.5 427.7 408.5 428.3 407.5 429.3 406.5 430.2 405.5 431.4 404.5 432.8 403.5 433.6 402.5 434.2 401.5 434.4 400.5 434.0 399.5 434.5 398.5 436.0 397.5 436.5 396.5 436.4 395.5 437.9 394.5 439.7 393.5 439.6 392.5 438.9 391.5 440.0 390.4 440.6 389.4 441.0 388.4 441.9 387.4 443.0 386.4 443.8 385.4 444.2 384.4 445.3 383.4 446.2 382.4 446.6 381.4 447.3 380.4 449.0 379.4 450.1 378.4 449.1 377.4 448.7 376.4 449.4 375.4 451.5 374.4 453.3 373.4 453.1 372.4 453.3 371.4 454.7 370.4 454.8 369.4 454.6 368.4 455.9 367.4 457.4 366.4 457.6 365.4 457.8 364.3 459.4 363.3 459.9 362.3 458.8 361.3 458.4 360.3 459.5 359.3 461.4 358.3 463.7 357.3 465.1 356.3 465.7 355.3 465.6 354.3 463.0 353.3 462.1Z" fill="#0000ff" stroke="#0000ff" stroke-width="2.6" stroke-linecap="round" stroke-linejoin="round" stroke-dasharray="0 2.2"/>
<path d="M353.3 469.1 354.3 469.6 355.3 468.6 356.3 467.1 357.3 465.2 358.3 463.6 359.3 463.0 360.3 463.2 361.3 464.4 362.3 464.8 363.3 464.0 364.3 462.2 365.4 460.8 366.4 460.0 367.4 458.7 368.4 457.9 369.4 457.8 370.4 457.5 371.4 456.8 372.4 456.4 373.4 455.9 374.4 454.1 375.4 452.1 376.4 451.5 377.4 451.7 378.4 451.2 379.4 450.6 380.4 450.3 381.4 449.7 382.4 449.3 383.4 448.6 384.4 447.3 385.4 446.3 386.4 445.7 387.4 445.0 388.4 444.2 389.4 444.0 390.4 443.7 391.5 443.5 392.5 443.0 393.5 441.7 394.5 440.8 395.5 439.9 396.5 439.0 397.5 438.6 398.5 438.6 399.5 438.4 400.5 437.2 401.5 436.1 402.5 435.2 403.5 434.5 404.5 434.0 405.5 433.7 406.5 433.8 407.5 433.4 408.5 431.6 409.5 430.4 410.5 430.5 411.5 430.6 412.5 429.6 413.5 428.7 414.5 427.5 415.5 426.8 416.6 426.4 417.6 425.4 418.6 424.6 419.6 424.0 420.6 423.4 421.6 424.0 422.6 423.3 423.6 422.8 424.6 422.5 425.6 421.4 426.6 420.5 427.6 420.4 428.6 420.4 429.6 420.0 430.6 419.7 431.6 419.7 432.6 419.0 433.6 418.6 434.6 418.1 435.6 416.5 436.6 415.6 437.6 415.9 438.6 416.2 439.6 415.6 440.6 414.8 441.6 414.6 442.7 414.1 443.7 413.2 444.7 412.2 445.7 411.3 446.7 411.7 447.7 412.2 448.7 411.7 449.7 410.3 450.7 408.8 451.7 408.7 452.7 409.2 453.7 409.5 454.7 409.1 455.7 408.6 456.7 408.4 457.7 407.3 458.7 405.7 459.7 405.0 460.7 404.8 461.7 405.7 462.7 405.2 463.7 404.4 464.7 404.5 465.7 404.2 466.7 404.2 467.8 403.9 468.8 402.4 469.8 402.4 470.8 403.1 471.8 403.8 472.8 404.1 473.8 403.8 474.8 404.2 475.8 404.2 476.8 402.6 477.8 402.0 478.8 402.3 479.8 402.5 480.8 402.5 481.8 402.7 482.8 403.0 483.8 403.6 484.8 403.8 485.8 403.5 486.8 403.2 487.8 402.5 488.8 401.7 489.8 401.5 490.8 401.9 491.8 402.6 492.8 402.1 493.9 401.6 494.9 402.8 495.9 403.5 496.9 403.2 497.9 403.4 498.9 404.0 499.9 404.1 500.9 403.1 501.9 402.2 502.9 402.3 503.9 402.1 504.9 402.2 505.9 402.7 506.9 402.9 507.9 403.2 508.9 403.6 509.9 403.9 510.9 404.1 511.9 403.5 512.9 402.8 513.9 402.4 514.9 401.9 515.9 403.0 516.9 403.5 517.9 402.8 517.9 407.9 516.9 409.1 515.9 409.1 514.9 408.0 513.9 407.9 512.9 407.8 511.9 407.0 510.9 407.6 509.9 408.9 508.9 408.5 507.9 408.4 506.9 409.3 505.9 408.5 504.9 407.0 503.9 407.2 502.9 408.0 501.9 408.4 500.9 408.5 499.9 408.2 498.9 407.9 497.9 408.0 496.9 408.7 495.9 409.3 494.9 409.3 493.9 409.0 492.8 407.7 491.8 408.1 490.8 408.8 489.8 408.6 488.8 407.8 487.8 408.1 486.8 408.7 485.8 408.6 484.8 408.0 483.8 407.4 482.8 407.3 481.8 407.1 480.8 407.1 479.8 407.2 478.8 407.9 477.8 408.1 476.8 408.3 475.8 408.8 474.8 408.2 473.8 407.8 472.8 408.3 471.8 408.5 470.8 408.6 469.8 409.2 468.8 409.3 467.8 408.1 466.7 408.1 465.7 408.7 464.7 408.9 463.7 409.1 462.7 409.2 461.7 409.2 460.7 409.4 459.7 410.8 458.7 411.6 457.7 412.1 456.7 411.9 455.7 411.8 454.7 412.9 453.7 413.9 452.7 414.0 451.7 413.9 450.7 414.1 449.7 414.3 448.7 414.7 447.7 414.8 446.7 415.3 445.7 416.1 444.7 416.9 443.7 417.7 442.7 417.9 441.6 418.7 440.6 420.1 439.6 420.5 438.6 420.7 437.6 420.8 436.6 421.5 435.6 421.1 434.6 421.1 433.6 422.2 432.6 422.9 431.6 423.4 430.6 424.9 429.6 425.9 428.6 426.0 427.6 426.5 426.6 426.4 425.6 426.5 424.6 428.0 423.6 428.6 422.6 428.0 421.6 428.2 420.6 428.6 419.6 428.9 418.6 430.6 417.6 432.8 416.6 433.4 415.5 434.0 414.5 433.7 413.5 433.7 412.5 435.0 411.5 436.2 410.5 436.3 409.5 435.8 408.5 437.2 407.5 438.7 406.5 438.3 405.5 437.6 404.5 438.3 403.5 439.7 402.5 440.3 401.5 440.6 400.5 441.7 399.5 443.0 398.5 444.0 397.5 444.4 396.5 444.0 395.5 444.4 394.5 445.7 393.5 446.9 392.5 447.4 391.5 447.8 390.4 448.6 389.4 449.2 388.4 450.2 387.4 451.3 386.4 451.8 385.4 452.4 384.4 452.7 383.4 453.2 382.4 454.5 381.4 455.3 380.4 456.6 379.4 458.2 378.4 458.7 377.4 459.2 376.4 460.5 375.4 462.0 374.4 463.4 373.4 463.8 372.4 464.8 371.4 466.6 370.4 467.5 369.4 467.8 368.4 468.8 367.4 469.9 366.4 471.0 365.4 471.9 364.3 472.7 363.3 474.7 362.3 475.5 361.3 474.7 360.3 474.8 359.3 475.6 358.3 476.7 357.3 478.5 356.3 480.1 355.3 480.6 354.3 480.5 353.3 479.8Z" fill="#ff0000" stroke="#ff0000" stroke-width="2.6" stroke-linecap="round" stroke-linejoin="round" stroke-dasharray="0 2.2"/>
<path d="M353.3 455.0 354.3 453.2 355.3 451.5 356.3 450.4 357.3 448.5 358.3 446.9 359.3 447.0 360.3 447.9 361.3 448.3 362.3 447.3 363.3 445.7 364.3 444.9 365.4 444.9 366.4 444.4 367.4 443.9 368.4 444.6 369.4 445.5 370.4 444.9 371.4 443.9 372.4 442.9 373.4 442.1 374.4 441.2 375.4 440.9 376.4 441.3 377.4 441.2 378.4 439.3 379.4 438.1 380.4 438.0 381.4 437.3 382.4 436.7 383.4 435.3 384.4 434.3 385.4 434.0 386.4 433.0 387.4 432.0 388.4 431.4 389.4 429.9 390.4 429.3 391.5 428.9 392.5 429.0 393.5 428.6 394.5 427.5 395.5 426.6 396.5 426.1 397.5 425.6 398.5 426.5 399.5 427.2 400.5 426.1 401.5 424.9 402.5 424.8 403.5 423.5 404.5 421.5 405.5 421.0 406.5 420.4 407.5 420.3 408.5 420.2 409.5 419.4 410.5 418.6 411.5 418.1 412.5 418.3 413.5 417.8 414.5 417.0 415.5 416.6 416.6 415.6 417.6 415.4 418.6 415.8 419.6 415.0 420.6 413.2 421.6 411.9 422.6 411.9 423.6 411.7 424.6 411.6 425.6 411.4 426.6 411.0 427.6 410.9 428.6 410.2 429.6 409.1 430.6 408.6 431.6 408.6 432.6 408.8 433.6 407.7 434.6 406.2 435.6 406.1 436.6 406.8 437.6 406.1 438.6 404.9 439.6 404.5 440.6 404.7 441.6 404.2 442.7 403.4 443.7 402.9 444.7 402.2 445.7 401.9 446.7 402.6 447.7 403.0 448.7 402.8 449.7 402.7 450.7 402.5 451.7 401.9 452.7 400.4 453.7 399.0 454.7 398.7 455.7 399.3 456.7 400.3 457.7 399.4 458.7 398.6 459.7 398.5 460.7 398.0 461.7 397.5 462.7 397.6 463.7 397.3 464.7 396.4 465.7 396.3 466.7 396.7 467.8 395.6 468.8 394.8 469.8 395.1 470.8 395.4 471.8 395.9 472.8 396.5 473.8 396.3 474.8 395.3 475.8 395.1 476.8 395.1 477.8 394.7 478.8 394.0 479.8 393.6 480.8 393.8 481.8 393.4 482.8 392.8 483.8 393.9 484.8 394.7 485.8 393.9 486.8 393.1 487.8 393.6 488.8 393.4 489.8 393.3 490.8 393.8 491.8 393.8 492.8 393.7 493.9 392.4 494.9 391.8 495.9 392.2 496.9 392.0 497.9 391.6 498.9 391.6 499.9 391.2 500.9 391.3 501.9 391.8 502.9 392.2 503.9 392.1 504.9 391.7 505.9 392.0 506.9 392.2 507.9 391.9 508.9 391.7 509.9 392.1 510.9 393.1 511.9 393.1 512.9 392.7 513.9 392.3 514.9 391.3 515.9 390.9 516.9 391.3 517.9 391.6 517.9 394.0 516.9 392.6 515.9 392.9 514.9 394.0 513.9 394.2 512.9 393.6 511.9 393.7 510.9 394.6 509.9 395.0 508.9 394.9 507.9 394.5 506.9 394.8 505.9 395.2 504.9 394.1 503.9 393.6 502.9 394.7 501.9 395.0 500.9 395.1 499.9 396.2 498.9 396.3 497.9 395.1 496.9 394.2 495.9 394.2 494.9 395.4 493.9 396.2 492.8 396.1 491.8 395.7 490.8 394.7 489.8 394.9 488.8 395.5 487.8 397.6 486.8 398.2 485.8 396.9 484.8 396.3 483.8 397.8 482.8 398.8 481.8 398.5 480.8 398.5 479.8 398.3 478.8 397.5 477.8 398.1 476.8 398.9 475.8 398.5 474.8 399.8 473.8 401.3 472.8 400.5 471.8 399.3 470.8 399.3 469.8 400.1 468.8 401.7 467.8 401.6 466.7 400.4 465.7 400.8 464.7 402.1 463.7 403.0 462.7 403.4 461.7 403.7 460.7 404.8 459.7 405.2 458.7 405.0 457.7 405.7 456.7 406.5 455.7 406.5 454.7 407.1 453.7 407.4 452.7 407.4 451.7 407.9 450.7 407.6 449.7 407.1 448.7 407.4 447.7 407.8 446.7 408.2 445.7 408.6 444.7 408.9 443.7 409.4 442.7 410.7 441.6 411.7 440.6 411.6 439.6 412.6 438.6 413.7 437.6 414.0 436.6 414.8 435.6 415.5 434.6 415.9 433.6 415.4 432.6 415.0 431.6 415.3 430.6 415.9 429.6 417.2 428.6 418.0 427.6 417.6 426.6 417.3 425.6 417.3 424.6 418.4 423.6 420.4 422.6 420.3 421.6 419.8 420.6 420.8 419.6 422.0 418.6 422.4 417.6 423.0 416.6 423.2 415.5 423.2 414.5 424.0 413.5 425.0 412.5 425.6 411.5 426.4 410.5 426.7 409.5 427.4 408.5 428.6 407.5 429.2 406.5 429.7 405.5 430.1 404.5 430.2 403.5 430.1 402.5 430.2 401.5 430.3 400.5 430.5 399.5 431.7 398.5 433.2 397.5 433.3 396.5 433.6 395.5 434.2 394.5 434.8 393.5 436.2 392.5 437.4 391.5 437.9 390.4 437.4 389.4 437.6 388.4 439.0 387.4 439.9 386.4 439.8 385.4 440.3 384.4 441.7 383.4 442.7 382.4 442.3 381.4 442.0 380.4 443.6 379.4 445.5 378.4 447.0 377.4 448.4 376.4 448.7 375.4 449.1 374.4 450.2 373.4 450.6 372.4 451.4 371.4 453.3 370.4 454.7 369.4 455.5 368.4 455.0 367.4 454.4 366.4 454.3 365.4 455.1 364.3 457.0 363.3 458.6 362.3 458.9 361.3 458.6 360.3 458.1 359.3 457.2 358.3 456.5 357.3 457.8 356.3 459.9 355.3 460.8 354.3 462.2 353.3 462.4Z" fill="#00ff00" stroke="#00ff00" stroke-width="2.6" stroke-linecap="round" stroke-linejoin="round" stroke-dasharray="0 2.2"/>
<path d="M353.3 448.9 354.3 449.9 355.3 449.6 356.3 448.6 357.3 447.5 358.3 447.2 359.3 446.8 360.3 445.3 361.3 444.1 362.3 444.1 363.3 444.1 364.3 443.6 365.4 442.8 366.4 442.2 367.4 441.4 368.4 439.3 369.4 437.7 370.4 437.5 371.4 437.9 372.4 438.5 373.4 438.4 374.4 436.8 375.4 435.5 376.4 435.2 377.4 434.4 378.4 433.6 379.4 433.6 380.4 433.6 381.4 432.4 382.4 430.5 383.4 429.6 384.4 428.9 385.4 428.4 386.4 429.7 387.4 429.6 388.4 428.5 389.4 428.1 390.4 426.8 391.5 426.5 392.5 426.9 393.5 425.6 394.5 425.2 395.5 425.5 396.5 425.2 397.5 424.3 398.5 423.9 399.5 423.5 400.5 422.3 401.5 421.4 402.5 420.8 403.5 419.8 404.5 419.6 405.5 420.1 406.5 419.5 407.5 418.5 408.5 416.9 409.5 415.8 410.5 415.2 411.5 414.6 412.5 414.0 413.5 413.6 414.5 413.5 415.5 412.8 416.6 411.3 417.6 411.0 418.6 411.1 419.6 410.1 420.6 409.6 421.6 409.7 422.6 409.0 423.6 408.3 424.6 408.6 425.6 408.3 426.6 407.4 427.6 407.2 428.6 406.6 429.6 406.2 430.6 405.6 431.6 405.4 432.6 405.5 433.6 405.3 434.6 404.2 435.6 403.0 436.6 402.5 437.6 402.3 438.6 402.2 439.6 402.1 440.6 402.1 441.6 402.0 442.7 401.4 443.7 400.4 444.7 400.0 445.7 400.1 446.7 399.4 447.7 398.3 448.7 398.1 449.7 398.1 450.7 398.2 451.7 397.5 452.7 396.1 453.7 396.4 454.7 396.5 455.7 395.4 456.7 395.4 457.7 395.4 458.7 395.1 459.7 395.6 460.7 395.5 461.7 395.0 462.7 395.2 463.7 394.9 464.7 394.1 465.7 393.8 466.7 393.9 467.8 393.6 468.8 393.4 469.8 392.7 470.8 392.4 471.8 392.8 472.8 392.9 473.8 391.9 474.8 390.9 475.8 391.4 476.8 392.3 477.8 391.4 478.8 390.1 479.8 390.5 480.8 391.3 481.8 390.3 482.8 389.1 483.8 390.2 484.8 391.3 485.8 390.5 486.8 390.8 487.8 390.9 488.8 390.2 489.8 389.4 490.8 390.4 491.8 390.5 492.8 389.7 493.9 388.1 494.9 388.3 495.9 389.1 496.9 389.3 497.9 389.0 498.9 388.4 499.9 387.6 500.9 387.5 501.9 388.9 502.9 389.5 503.9 388.0 504.9 387.6 505.9 388.9 506.9 389.4 507.9 389.1 508.9 388.6 509.9 388.4 510.9 388.3 511.9 388.8 512.9 389.3 513.9 388.3 514.9 387.7 515.9 387.9 516.9 388.5 517.9 389.0 517.9 392.0 516.9 392.0 515.9 391.9 514.9 391.7 513.9 391.5 512.9 391.4 511.9 392.0 510.9 391.4 509.9 391.0 508.9 391.7 507.9 393.2 506.9 393.6 505.9 393.3 504.9 393.0 503.9 392.5 502.9 391.8 501.9 391.5 500.9 391.5 499.9 392.0 498.9 392.9 497.9 393.7 496.9 393.3 495.9 393.2 494.9 393.4 493.9 392.2 492.8 392.0 491.8 392.2 490.8 391.9 489.8 392.2 488.8 392.6 487.8 393.4 486.8 394.1 485.8 394.1 484.8 393.5 483.8 393.3 482.8 393.9 481.8 393.8 480.8 394.1 479.8 394.6 478.8 394.5 477.8 394.3 476.8 393.8 475.8 394.5 474.8 395.7 473.8 395.9 472.8 395.9 471.8 395.9 470.8 395.2 469.8 395.0 468.8 395.8 467.8 397.3 466.7 397.4 465.7 395.9 464.7 396.3 463.7 397.3 462.7 396.9 461.7 397.0 460.7 397.9 459.7 399.8 458.7 400.7 457.7 401.1 456.7 401.0 455.7 401.3 454.7 402.1 453.7 401.9 452.7 401.8 451.7 402.5 450.7 403.4 449.7 403.6 448.7 403.1 447.7 403.4 446.7 404.5 445.7 404.5 444.7 404.5 443.7 404.7 442.7 405.0 441.6 405.5 440.6 405.8 439.6 406.7 438.6 408.1 437.6 409.2 436.6 409.5 435.6 409.3 434.6 409.5 433.6 409.4 432.6 409.6 431.6 410.6 430.6 411.6 429.6 412.5 428.6 412.4 427.6 411.7 426.6 412.0 425.6 412.3 424.6 412.5 423.6 413.7 422.6 414.8 421.6 415.2 420.6 415.0 419.6 416.2 418.6 417.5 417.6 417.5 416.6 418.4 415.5 419.8 414.5 419.9 413.5 420.3 412.5 421.9 411.5 422.6 410.5 422.5 409.5 422.0 408.5 422.6 407.5 423.6 406.5 424.8 405.5 425.7 404.5 426.1 403.5 426.1 402.5 425.6 401.5 427.0 400.5 428.9 399.5 429.3 398.5 430.1 397.5 430.1 396.5 429.4 395.5 430.1 394.5 431.0 393.5 431.0 392.5 431.6 391.5 432.7 390.4 433.8 389.4 435.0 388.4 435.7 387.4 435.1 386.4 434.8 385.4 436.0 384.4 437.7 383.4 438.7 382.4 438.7 381.4 439.2 380.4 440.7 379.4 440.7 378.4 439.9 377.4 441.4 376.4 443.1 375.4 443.1 374.4 443.4 373.4 444.0 372.4 444.7 371.4 445.8 370.4 446.6 369.4 447.8 368.4 448.9 367.4 449.4 366.4 449.2 365.4 450.3 364.3 450.7 363.3 450.5 362.3 451.6 361.3 452.4 360.3 453.6 359.3 454.7 358.3 455.5 357.3 454.9 356.3 454.9 355.3 455.1 354.3 456.2 353.3 457.3Z" fill="#ff00ff" stroke="#ff00ff" stroke-width="2.6" stroke-linecap="round" stroke-linejoin="round" stroke-dasharray="0 2.2"/>
<path d="M330.60 509.50v-2.4M330.60 314.90v2.4M398.50 509.50v-2.4M398.50 314.90v2.4M467.60 509.50v-2.4M467.60 314.90v2.4M536.00 509.50v-2.4M536.00 314.90v2.4M330.60 314.90h2.4M536.00 314.90h-2.4M330.60 363.60h2.4M536.00 363.60h-2.4M330.60 412.50h2.4M536.00 412.50h-2.4M330.60 460.90h2.4M536.00 460.90h-2.4M330.60 509.50h2.4M536.00 509.50h-2.4" stroke="#3a3a3a" stroke-width="1.1" fill="none"/>
<rect x="330.60" y="314.90" width="205.40" height="194.60" fill="none" stroke="#3a3a3a" stroke-width="1.25"/>
<text transform="translate(330.2 537.7) scale(1 1.100)" font-size="19.20" fill="#262626" stroke="#262626" stroke-width="0.3" text-anchor="middle">0</text>
<text transform="translate(399.4 537.7) scale(1 1.100)" font-size="19.20" fill="#262626" stroke="#262626" stroke-width="0.3" text-anchor="middle">30</text>
<text transform="translate(467.2 537.7) scale(1 1.100)" font-size="19.20" fill="#262626" stroke="#262626" stroke-width="0.3" text-anchor="middle">60</text>
<text transform="translate(536.7 537.7) scale(1 1.100)" font-size="19.20" fill="#262626" stroke="#262626" stroke-width="0.3" text-anchor="middle">90</text>
<text transform="translate(322.3 322.3) scale(1 1.100)" font-size="19.20" fill="#262626" stroke="#262626" stroke-width="0.3" text-anchor="end">70</text>
<text transform="translate(322.3 371.2) scale(1 1.100)" font-size="19.20" fill="#262626" stroke="#262626" stroke-width="0.3" text-anchor="end">60</text>
<text transform="translate(322.3 419.6) scale(1 1.100)" font-size="19.20" fill="#262626" stroke="#262626" stroke-width="0.3" text-anchor="end">50</text>
<text transform="translate(322.3 469.1) scale(1 1.100)" font-size="19.20" fill="#262626" stroke="#262626" stroke-width="0.3" text-anchor="end">40</text>
<text transform="translate(322.3 518.1) scale(1 1.100)" font-size="19.20" fill="#262626" stroke="#262626" stroke-width="0.3" text-anchor="end">30</text>
<text transform="translate(353.5 346.4) scale(1 1.055)" font-size="20.00" fill="#000" stroke="#000" stroke-width="0.3">VNDP</text>
<text transform="translate(20.1 140.2) rotate(-90) scale(1 1.000)" font-size="21.90" fill="#262626" stroke="#262626" stroke-width="0.3" text-anchor="middle">SNR/dB-Hz</text>
<text transform="translate(20.1 411.8) rotate(-90) scale(1 1.000)" font-size="21.90" fill="#262626" stroke="#262626" stroke-width="0.3" text-anchor="middle">SNR/dB-Hz</text>
<text transform="translate(300.2 563.2) scale(1 0.957)" font-size="21.90" fill="#262626" stroke="#262626" stroke-width="0.3" text-anchor="middle">Elevation/deg</text>
<rect x="127.9" y="3.7" width="337.9" height="27.1" fill="#fff" stroke="#3a3a3a" stroke-width="1.4"/>
<circle cx="150.5" cy="17.6" r="8.8" fill="#0000ff"/>
<text transform="translate(173.5 25.3) scale(1 1.070)" font-size="19.65" fill="#000" stroke="#000" stroke-width="0.3">B1I</text>
<circle cx="231.5" cy="17.6" r="8.8" fill="#ff0000"/>
<text transform="translate(254.6 25.3) scale(1 1.070)" font-size="19.65" fill="#000" stroke="#000" stroke-width="0.3">B1C</text>
<circle cx="322.2" cy="17.6" r="8.8" fill="#00ff00"/>
<text transform="translate(345.1 25.3) scale(1 1.070)" font-size="19.65" fill="#000" stroke="#000" stroke-width="0.3">B2a</text>
<circle cx="408.7" cy="17.6" r="8.8" fill="#ff00ff"/>
<text transform="translate(431.9 25.3) scale(1 1.070)" font-size="19.65" fill="#000" stroke="#000" stroke-width="0.3">B3I</text>
</svg>
</body></html>
